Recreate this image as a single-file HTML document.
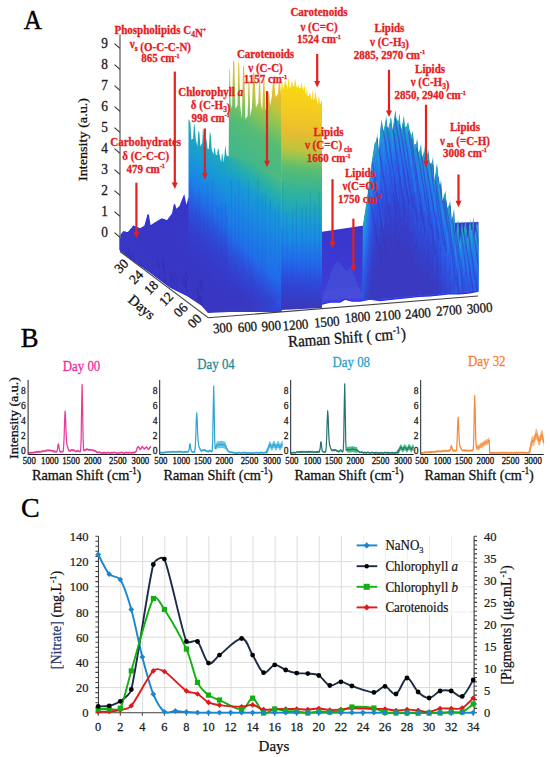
<!DOCTYPE html>
<html><head><meta charset="utf-8"><style>
html,body{margin:0;padding:0;background:#fff;}
svg{display:block;}
</style></head><body>
<svg width="550" height="757" viewBox="0 0 550 757">
<rect width="550" height="757" fill="#fff"/>
<defs><linearGradient id="gFloor" gradientUnits="userSpaceOnUse" x1="0" y1="200" x2="0" y2="315"><stop offset="0" stop-color="#3834c4"/><stop offset="0.6" stop-color="#3a3ad4"/><stop offset="1" stop-color="#3e3ee0"/></linearGradient><linearGradient id="gLeft" gradientUnits="userSpaceOnUse" x1="205.0" y1="118.0" x2="115.2" y2="237.7"><stop offset="0.0000" stop-color="#2eb2a0"/><stop offset="0.0428" stop-color="#29afa9"/><stop offset="0.0856" stop-color="#24acb2"/><stop offset="0.1283" stop-color="#1fa8bb"/><stop offset="0.1711" stop-color="#1ca4c3"/><stop offset="0.2045" stop-color="#1ba0cb"/><stop offset="0.2380" stop-color="#199bd3"/><stop offset="0.2714" stop-color="#1896d9"/><stop offset="0.3048" stop-color="#1990dd"/><stop offset="0.3382" stop-color="#1a8ae1"/><stop offset="0.3717" stop-color="#1a84e4"/><stop offset="0.4051" stop-color="#1d7ce6"/><stop offset="0.4385" stop-color="#1f73e8"/><stop offset="0.4987" stop-color="#216be9"/><stop offset="0.5588" stop-color="#2561e6"/><stop offset="0.6190" stop-color="#2a56e0"/><stop offset="0.6791" stop-color="#2e4bdb"/><stop offset="0.7393" stop-color="#3144d5"/><stop offset="0.7995" stop-color="#3341ce"/><stop offset="0.8596" stop-color="#353ec7"/><stop offset="0.9198" stop-color="#383ac0"/><stop offset="0.9398" stop-color="#3839be"/><stop offset="0.9599" stop-color="#3938bc"/><stop offset="0.9799" stop-color="#3937ba"/><stop offset="1" stop-color="#3a36b8"/></linearGradient><linearGradient id="gTallL" gradientUnits="userSpaceOnUse" x1="255.0" y1="62.0" x2="199.6" y2="141.2"><stop offset="0.0000" stop-color="#f2ca22"/><stop offset="0.0487" stop-color="#eec527"/><stop offset="0.0975" stop-color="#ebbf2d"/><stop offset="0.1462" stop-color="#e4bd31"/><stop offset="0.1949" stop-color="#d9bf34"/><stop offset="0.2373" stop-color="#ccc238"/><stop offset="0.2797" stop-color="#c0c43c"/><stop offset="0.3220" stop-color="#afc445"/><stop offset="0.3644" stop-color="#9ec44d"/><stop offset="0.4174" stop-color="#8cc456"/><stop offset="0.4703" stop-color="#7bc160"/><stop offset="0.5233" stop-color="#6abe6a"/><stop offset="0.5763" stop-color="#58bc74"/><stop offset="0.6822" stop-color="#50ba7c"/><stop offset="0.7881" stop-color="#48b984"/><stop offset="0.8941" stop-color="#41b78b"/><stop offset="1" stop-color="#39b693"/></linearGradient><linearGradient id="gShelf" gradientUnits="userSpaceOnUse" x1="255.0" y1="160.0" x2="182.0" y2="257.3"><stop offset="0.0000" stop-color="#4fba7d"/><stop offset="0.0641" stop-color="#36b596"/><stop offset="0.1283" stop-color="#26adae"/><stop offset="0.1924" stop-color="#1ca4c4"/><stop offset="0.2566" stop-color="#1898d8"/><stop offset="0.3076" stop-color="#1993db"/><stop offset="0.3586" stop-color="#198edf"/><stop offset="0.4095" stop-color="#1a89e2"/><stop offset="0.4605" stop-color="#1b82e5"/><stop offset="0.5033" stop-color="#1c7ee6"/><stop offset="0.5461" stop-color="#1d79e7"/><stop offset="0.5888" stop-color="#1f74e8"/><stop offset="0.6316" stop-color="#2070e8"/><stop offset="0.6859" stop-color="#2268ea"/><stop offset="0.7401" stop-color="#265ee5"/><stop offset="0.7944" stop-color="#2a55e0"/><stop offset="0.8487" stop-color="#2e4bdb"/><stop offset="0.8865" stop-color="#3144d5"/><stop offset="0.9243" stop-color="#3341ce"/><stop offset="0.9622" stop-color="#353ec7"/><stop offset="1" stop-color="#383ac0"/></linearGradient><linearGradient id="gTallR" gradientUnits="userSpaceOnUse" x1="305.0" y1="78.0" x2="282.2" y2="305.7"><stop offset="0.0000" stop-color="#f8dc10"/><stop offset="0.0293" stop-color="#f7d913"/><stop offset="0.0587" stop-color="#f6d616"/><stop offset="0.0880" stop-color="#f6d21a"/><stop offset="0.1174" stop-color="#f5cf1d"/><stop offset="0.1424" stop-color="#f3cb21"/><stop offset="0.1674" stop-color="#f1c725"/><stop offset="0.1924" stop-color="#eec428"/><stop offset="0.2174" stop-color="#ebc12b"/><stop offset="0.2413" stop-color="#e6bc31"/><stop offset="0.2652" stop-color="#d9bf34"/><stop offset="0.2891" stop-color="#ccc238"/><stop offset="0.3130" stop-color="#c0c43c"/><stop offset="0.3326" stop-color="#a8c448"/><stop offset="0.3522" stop-color="#90c454"/><stop offset="0.3717" stop-color="#77c062"/><stop offset="0.3913" stop-color="#5fbd70"/><stop offset="0.4261" stop-color="#4eba7e"/><stop offset="0.4609" stop-color="#40b78c"/><stop offset="0.4957" stop-color="#31b49b"/><stop offset="0.5304" stop-color="#29b0a8"/><stop offset="0.5522" stop-color="#24acb2"/><stop offset="0.5739" stop-color="#1ea8bc"/><stop offset="0.5957" stop-color="#1ca3c5"/><stop offset="0.6174" stop-color="#1a9ece"/><stop offset="0.6500" stop-color="#1897d8"/><stop offset="0.6826" stop-color="#198fde"/><stop offset="0.7152" stop-color="#1a87e4"/><stop offset="0.7478" stop-color="#1d7be6"/><stop offset="0.7913" stop-color="#206ee9"/><stop offset="0.8348" stop-color="#265ee5"/><stop offset="0.8783" stop-color="#2d4ddc"/><stop offset="0.9217" stop-color="#3242d0"/><stop offset="0.9413" stop-color="#3440cb"/><stop offset="0.9609" stop-color="#363dc6"/><stop offset="0.9804" stop-color="#373ac1"/><stop offset="1" stop-color="#3938bc"/></linearGradient><linearGradient id="gLipid" gradientUnits="userSpaceOnUse" x1="0" y1="110" x2="0" y2="300"><stop offset="0" stop-color="#2aa4c4"/><stop offset="0.1" stop-color="#2290d8"/><stop offset="0.25" stop-color="#2476ea"/><stop offset="0.47" stop-color="#2a5ee8"/><stop offset="0.7" stop-color="#3048d8"/><stop offset="1" stop-color="#3a3cc0"/></linearGradient></defs>
<clipPath id="cFloor"><polygon points="120.0,236.5 123.6,231.8 128.0,233.0 133.6,226.4 140.0,229.0 145.0,226.0 148.2,214.5 150.0,226.4 155.0,223.0 161.8,219.0 167.3,221.0 172.7,213.6 174.5,204.5 176.0,210.0 180.0,206.4 184.0,196.4 186.4,208.0 189.0,198.0 189.0,215.0 322.0,231.8 364.0,225.5 478.5,222.0 478.5,291.0 470.0,292.8 460.0,293.9 450.0,293.7 440.0,294.8 430.0,295.9 419.0,296.3 405.0,297.8 390.0,299.4 380.0,300.7 370.0,299.1 360.0,301.0 352.0,301.1 345.0,299.2 340.0,302.0 330.0,302.1 320.0,304.5 310.0,304.9 300.0,305.0 290.0,305.4 280.0,303.2 278.0,297.0 276.0,304.8 260.0,305.1 250.0,305.8 240.0,306.4 230.0,307.5 220.0,309.2 208.0,311.7 202.0,305.0 190.0,297.0 170.0,287.0 150.0,272.0 134.0,261.0 120.0,250.0"/></clipPath>
<polygon points="120.0,236.5 123.6,231.8 128.0,233.0 133.6,226.4 140.0,229.0 145.0,226.0 148.2,214.5 150.0,226.4 155.0,223.0 161.8,219.0 167.3,221.0 172.7,213.6 174.5,204.5 176.0,210.0 180.0,206.4 184.0,196.4 186.4,208.0 189.0,198.0 189.0,215.0 322.0,231.8 364.0,225.5 478.5,222.0 478.5,291.0 470.0,292.8 460.0,293.9 450.0,293.7 440.0,294.8 430.0,295.9 419.0,296.3 405.0,297.8 390.0,299.4 380.0,300.7 370.0,299.1 360.0,301.0 352.0,301.1 345.0,299.2 340.0,302.0 330.0,302.1 320.0,304.5 310.0,304.9 300.0,305.0 290.0,305.4 280.0,303.2 278.0,297.0 276.0,304.8 260.0,305.1 250.0,305.8 240.0,306.4 230.0,307.5 220.0,309.2 208.0,311.7 202.0,305.0 190.0,297.0 170.0,287.0 150.0,272.0 134.0,261.0 120.0,250.0" fill="url(#gFloor)"/>
<polyline points="478.5,291.0 470.0,292.8 460.0,293.9 450.0,293.7 440.0,294.8 430.0,295.9 419.0,296.3 405.0,297.8 390.0,299.4 380.0,300.7 370.0,299.1 360.0,301.0 352.0,301.1 345.0,299.2 340.0,302.0 330.0,302.1 320.0,304.5 310.0,304.9 300.0,305.0 290.0,305.4 280.0,303.2 278.0,297.0 276.0,304.8 260.0,305.1 250.0,305.8 240.0,306.4 230.0,307.5 220.0,309.2 208.0,311.7 202.0,305.0 190.0,297.0 170.0,287.0 150.0,272.0 134.0,261.0 120.0,250.0" fill="none" stroke="#2a2af0" stroke-width="1.3"/>
<polyline points="120.0,250.0 120.0,236.5 123.6,231.8 128.0,233.0 133.6,226.4 140.0,229.0 145.0,226.0 148.2,214.5 150.0,226.4 155.0,223.0 161.8,219.0 167.3,221.0 172.7,213.6 174.5,204.5 176.0,210.0 180.0,206.4 184.0,196.4 186.4,208.0 189.0,198.0" fill="none" stroke="#2e2ef0" stroke-width="1.4"/>
<path d="M322,300 C328,285 332,262 338,262 C343,262 345,275 348,270 C352,262 356,285 364,298 Z" fill="#4a58d4" fill-opacity="0.5"/>
<path clip-path="url(#cFloor)" d="M120,238 L208,298 L478.5,278 L478.5,295 L208,314 L120,253 Z" fill="#5a5ae0" fill-opacity="0.2"/>
<polygon points="188.5,215.0 188.5,119.0 189.5,120.6 190.4,123.1 191.4,139.7 193.1,138.5 194.0,123.1 194.9,127.1 195.7,138.5 197.3,146.6 198.4,130.6 199.4,132.5 200.4,146.6 202.3,142.5 202.9,128.1 203.5,131.4 204.2,142.5 205.3,148.5 206.1,137.9 206.8,141.8 207.5,148.5 208.8,149.0 209.8,131.2 210.8,135.0 211.7,149.0 213.4,154.6 214.3,147.6 215.0,148.8 215.7,154.6 217.1,155.0 218.0,148.2 218.8,149.4 219.6,155.0 221.2,162.4 221.9,153.1 222.6,154.5 223.3,162.4 224.5,155.2 225.2,145.0 225.8,148.4 226.5,155.2 229.5,157.0 229.5,312.0 208.0,313.0 202.0,306.0 190.0,298.0 188.5,297.0" fill="url(#gLeft)"/>
<polygon points="228.5,175.0 229.3,68.7 230.0,70.2 230.6,103.1 232.0,108.7 233.2,60.2 234.3,61.6 235.4,108.7 237.5,105.3 238.4,60.5 239.3,64.5 240.2,105.3 241.8,119.0 243.1,65.3 244.2,66.9 245.4,119.0 247.6,115.9 248.5,80.0 249.4,81.3 250.2,115.9 251.9,107.8 253.3,71.4 254.6,74.7 255.9,107.8 258.3,102.8 259.2,76.1 260.0,77.4 260.8,102.8 262.3,110.5 263.4,77.1 264.4,79.2 265.4,110.5 267.3,105.5 268.3,91.5 269.2,94.2 270.1,105.5 271.8,97.1 273.1,78.9 274.3,82.6 275.5,97.1 277.8,94.3 279.1,80.2 280.2,83.4 281.0,94.3 281.8,82.0 281.8,178.0" fill="url(#gTallL)"/>
<polygon points="228.5,156.0 240.0,160.0 255.0,165.0 268.0,169.0 281.8,174.0 281.8,312.0 228.5,312.0" fill="url(#gShelf)"/>
<polygon points="281.8,79.2 282.4,82.8 283.1,89.6 284.4,84.2 285.1,80.2 285.7,81.3 286.4,84.2 287.5,88.7 288.3,78.1 289.0,79.8 289.7,88.7 291.0,85.9 291.7,80.9 292.4,82.4 293.1,85.9 294.3,85.9 295.0,78.3 295.7,81.0 296.3,85.9 297.6,88.3 298.3,84.3 299.0,88.0 299.6,88.3 300.9,87.7 301.5,81.4 302.0,83.7 302.6,87.7 303.6,90.2 304.2,84.5 304.7,87.3 305.2,90.2 306.2,96.1 306.7,87.8 307.3,91.8 307.8,96.1 308.8,96.3 309.5,92.3 310.1,93.7 310.8,96.3 312.0,99.9 312.5,89.2 313.0,92.3 313.5,99.9 314.5,99.3 315.3,91.1 315.9,93.6 316.6,99.3 318.0,104.4 318.7,96.1 319.3,97.3 320.0,104.4 322.0,100.0 322.0,308.0 281.0,310.0" fill="url(#gTallR)"/>
<linearGradient id="gOver" gradientUnits="userSpaceOnUse" x1="202" y1="197.2" x2="164" y2="229.7"><stop offset="0" stop-color="#3836c4" stop-opacity="0"/><stop offset="0.3" stop-color="#3836c4" stop-opacity="0.35"/><stop offset="1" stop-color="#3836c4" stop-opacity="0.92"/></linearGradient>
<clipPath id="cOver"><polygon points="120.0,236.5 123.6,231.8 128.0,233.0 133.6,226.4 140.0,229.0 145.0,226.0 148.2,214.5 150.0,226.4 155.0,223.0 161.8,219.0 167.3,221.0 172.7,213.6 174.5,204.5 176.0,210.0 180.0,206.4 184.0,196.4 186.4,208.0 189.0,198.0 188.5,150.0 330.0,150.0 330.0,302.1 320.0,304.5 310.0,304.9 300.0,305.0 290.0,305.4 280.0,303.2 278.0,297.0 276.0,304.8 260.0,305.1 250.0,305.8 240.0,306.4 230.0,307.5 220.0,309.2 208.0,311.7 202.0,305.0 190.0,297.0 170.0,287.0 150.0,272.0 134.0,261.0 120.0,250.0"/></clipPath>
<polygon clip-path="url(#cOver)" points="120,150 330,150 330,320 120,320" fill="url(#gOver)"/>
<clipPath id="cLip"><polygon points="362.7,225.0 366.6,200.0 370.4,169.4 374.3,143.6 376.0,140.7 377.3,132.8 378.8,149.8 380.3,126.4 381.7,118.2 383.3,131.5 384.9,122.9 386.3,114.6 387.9,128.4 389.5,122.5 390.9,115.2 392.6,130.1 394.3,115.8 395.4,109.2 396.8,118.8 398.2,120.9 399.6,112.2 401.1,129.2 402.7,120.9 403.9,114.0 405.3,127.1 406.7,125.7 408.1,120.2 409.8,129.8 411.5,135.0 412.9,129.9 414.4,144.6 416.0,143.4 417.2,135.8 418.7,152.6 420.1,147.4 421.1,141.4 422.2,156.7 423.4,152.7 424.4,145.0 425.7,164.0 426.9,154.5 428.4,148.5 430.1,163.7 431.9,162.0 433.1,153.9 434.5,180.7 436.0,167.4 437.1,161.7 438.5,174.8 439.9,185.2 441.2,177.2 442.6,201.1 444.1,194.6 445.6,190.3 447.4,208.0 449.2,203.4 450.3,198.5 451.7,219.8 453.0,213.1 454.2,206.7 455.7,234.9 457.2,222.5 458.4,219.2 459.8,243.2 461.3,225.4 462.2,218.6 463.4,235.2 464.5,224.2 466.0,220.7 467.6,238.4 469.3,224.0 470.3,217.8 471.4,230.7 472.6,221.9 473.6,215.7 474.7,237.1 475.9,226.7 477.2,218.4 478.8,242.2 476.0,223.4 478.5,226.0 478.5,290.3 362.7,300.0"/></clipPath>
<g clip-path="url(#cLip)"><polygon points="362.7,225.0 366.6,200.0 370.4,169.4 374.3,143.6 376.0,140.7 377.3,132.8 378.8,149.8 380.3,126.4 381.7,118.2 383.3,131.5 384.9,122.9 386.3,114.6 387.9,128.4 389.5,122.5 390.9,115.2 392.6,130.1 394.3,115.8 395.4,109.2 396.8,118.8 398.2,120.9 399.6,112.2 401.1,129.2 402.7,120.9 403.9,114.0 405.3,127.1 406.7,125.7 408.1,120.2 409.8,129.8 411.5,135.0 412.9,129.9 414.4,144.6 416.0,143.4 417.2,135.8 418.7,152.6 420.1,147.4 421.1,141.4 422.2,156.7 423.4,152.7 424.4,145.0 425.7,164.0 426.9,154.5 428.4,148.5 430.1,163.7 431.9,162.0 433.1,153.9 434.5,180.7 436.0,167.4 437.1,161.7 438.5,174.8 439.9,185.2 441.2,177.2 442.6,201.1 444.1,194.6 445.6,190.3 447.4,208.0 449.2,203.4 450.3,198.5 451.7,219.8 453.0,213.1 454.2,206.7 455.7,234.9 457.2,222.5 458.4,219.2 459.8,243.2 461.3,225.4 462.2,218.6 463.4,235.2 464.5,224.2 466.0,220.7 467.6,238.4 469.3,224.0 470.3,217.8 471.4,230.7 472.6,221.9 473.6,215.7 474.7,237.1 475.9,226.7 477.2,218.4 478.8,242.2 476.0,223.4 478.5,226.0 478.5,300.0 362.7,300.0" fill="#2aaab8"/><polygon points="362.7,230.0 366.6,205.0 370.4,174.4 374.3,148.6 376.0,145.7 377.3,137.8 378.8,154.8 380.3,131.4 381.7,123.2 383.3,136.5 384.9,127.9 386.3,119.6 387.9,133.4 389.5,127.5 390.9,120.2 392.6,135.1 394.3,120.8 395.4,114.2 396.8,123.8 398.2,125.9 399.6,117.2 401.1,134.2 402.7,125.9 403.9,119.0 405.3,132.1 406.7,130.7 408.1,125.2 409.8,134.8 411.5,140.0 412.9,134.9 414.4,149.6 416.0,148.4 417.2,140.8 418.7,157.6 420.1,152.4 421.1,146.4 422.2,161.7 423.4,157.7 424.4,150.0 425.7,169.0 426.9,159.5 428.4,153.5 430.1,168.7 431.9,167.0 433.1,158.9 434.5,185.7 436.0,172.4 437.1,166.7 438.5,179.8 439.9,190.2 441.2,182.2 442.6,206.1 444.1,199.6 445.6,195.3 447.4,213.0 449.2,208.4 450.3,203.5 451.7,224.8 453.0,218.1 454.2,211.7 455.7,239.9 457.2,227.5 458.4,224.2 459.8,248.2 461.3,230.4 462.2,223.6 463.4,240.2 464.5,229.2 466.0,225.7 467.6,243.4 469.3,229.0 470.3,222.8 471.4,235.7 472.6,226.9 473.6,220.7 474.7,242.1 475.9,231.7 477.2,223.4 478.8,247.2 476.0,228.4 478.5,231.0 478.5,300.0 362.7,300.0" fill="#24a0cc"/><polygon points="362.7,237.0 366.6,212.0 370.4,181.4 374.3,155.6 376.0,152.7 377.3,144.8 378.8,161.8 380.3,138.4 381.7,130.2 383.3,143.5 384.9,134.9 386.3,126.6 387.9,140.4 389.5,134.5 390.9,127.2 392.6,142.1 394.3,127.8 395.4,121.2 396.8,130.8 398.2,132.9 399.6,124.2 401.1,141.2 402.7,132.9 403.9,126.0 405.3,139.1 406.7,137.7 408.1,132.2 409.8,141.8 411.5,147.0 412.9,141.9 414.4,156.6 416.0,155.4 417.2,147.8 418.7,164.6 420.1,159.4 421.1,153.4 422.2,168.7 423.4,164.7 424.4,157.0 425.7,176.0 426.9,166.5 428.4,160.5 430.1,175.7 431.9,174.0 433.1,165.9 434.5,192.7 436.0,179.4 437.1,173.7 438.5,186.8 439.9,197.2 441.2,189.2 442.6,213.1 444.1,206.6 445.6,202.3 447.4,220.0 449.2,215.4 450.3,210.5 451.7,231.8 453.0,225.1 454.2,218.7 455.7,246.9 457.2,234.5 458.4,231.2 459.8,255.2 461.3,237.4 462.2,230.6 463.4,247.2 464.5,236.2 466.0,232.7 467.6,250.4 469.3,236.0 470.3,229.8 471.4,242.7 472.6,233.9 473.6,227.7 474.7,249.1 475.9,238.7 477.2,230.4 478.8,254.2 476.0,235.4 478.5,238.0 478.5,300.0 362.7,300.0" fill="#2290dc"/><polygon points="362.7,247.0 366.6,222.0 370.4,191.4 374.3,165.6 376.0,162.7 377.3,154.8 378.8,171.8 380.3,148.4 381.7,140.2 383.3,153.5 384.9,144.9 386.3,136.6 387.9,150.4 389.5,144.5 390.9,137.2 392.6,152.1 394.3,137.8 395.4,131.2 396.8,140.8 398.2,142.9 399.6,134.2 401.1,151.2 402.7,142.9 403.9,136.0 405.3,149.1 406.7,147.7 408.1,142.2 409.8,151.8 411.5,157.0 412.9,151.9 414.4,166.6 416.0,165.4 417.2,157.8 418.7,174.6 420.1,169.4 421.1,163.4 422.2,178.7 423.4,174.7 424.4,167.0 425.7,186.0 426.9,176.5 428.4,170.5 430.1,185.7 431.9,184.0 433.1,175.9 434.5,202.7 436.0,189.4 437.1,183.7 438.5,196.8 439.9,207.2 441.2,199.2 442.6,223.1 444.1,216.6 445.6,212.3 447.4,230.0 449.2,225.4 450.3,220.5 451.7,241.8 453.0,235.1 454.2,228.7 455.7,256.9 457.2,244.5 458.4,241.2 459.8,265.2 461.3,247.4 462.2,240.6 463.4,257.2 464.5,246.2 466.0,242.7 467.6,260.4 469.3,246.0 470.3,239.8 471.4,252.7 472.6,243.9 473.6,237.7 474.7,259.1 475.9,248.7 477.2,240.4 478.8,264.2 476.0,245.4 478.5,248.0 478.5,300.0 362.7,300.0" fill="#2280e8"/><polygon points="362.7,259.0 366.6,234.0 370.4,203.4 374.3,177.6 376.0,174.7 377.3,166.8 378.8,183.8 380.3,160.4 381.7,152.2 383.3,165.5 384.9,156.9 386.3,148.6 387.9,162.4 389.5,156.5 390.9,149.2 392.6,164.1 394.3,149.8 395.4,143.2 396.8,152.8 398.2,154.9 399.6,146.2 401.1,163.2 402.7,154.9 403.9,148.0 405.3,161.1 406.7,159.7 408.1,154.2 409.8,163.8 411.5,169.0 412.9,163.9 414.4,178.6 416.0,177.4 417.2,169.8 418.7,186.6 420.1,181.4 421.1,175.4 422.2,190.7 423.4,186.7 424.4,179.0 425.7,198.0 426.9,188.5 428.4,182.5 430.1,197.7 431.9,196.0 433.1,187.9 434.5,214.7 436.0,201.4 437.1,195.7 438.5,208.8 439.9,219.2 441.2,211.2 442.6,235.1 444.1,228.6 445.6,224.3 447.4,242.0 449.2,237.4 450.3,232.5 451.7,253.8 453.0,247.1 454.2,240.7 455.7,268.9 457.2,256.5 458.4,253.2 459.8,277.2 461.3,259.4 462.2,252.6 463.4,269.2 464.5,258.2 466.0,254.7 467.6,272.4 469.3,258.0 470.3,251.8 471.4,264.7 472.6,255.9 473.6,249.7 474.7,271.1 475.9,260.7 477.2,252.4 478.8,276.2 476.0,257.4 478.5,260.0 478.5,300.0 362.7,300.0" fill="#2670ec"/><polygon points="362.7,273.0 366.6,248.0 370.4,217.4 374.3,191.6 376.0,188.7 377.3,180.8 378.8,197.8 380.3,174.4 381.7,166.2 383.3,179.5 384.9,170.9 386.3,162.6 387.9,176.4 389.5,170.5 390.9,163.2 392.6,178.1 394.3,163.8 395.4,157.2 396.8,166.8 398.2,168.9 399.6,160.2 401.1,177.2 402.7,168.9 403.9,162.0 405.3,175.1 406.7,173.7 408.1,168.2 409.8,177.8 411.5,183.0 412.9,177.9 414.4,192.6 416.0,191.4 417.2,183.8 418.7,200.6 420.1,195.4 421.1,189.4 422.2,204.7 423.4,200.7 424.4,193.0 425.7,212.0 426.9,202.5 428.4,196.5 430.1,211.7 431.9,210.0 433.1,201.9 434.5,228.7 436.0,215.4 437.1,209.7 438.5,222.8 439.9,233.2 441.2,225.2 442.6,249.1 444.1,242.6 445.6,238.3 447.4,256.0 449.2,251.4 450.3,246.5 451.7,267.8 453.0,261.1 454.2,254.7 455.7,282.9 457.2,270.5 458.4,267.2 459.8,291.2 461.3,273.4 462.2,266.6 463.4,283.2 464.5,272.2 466.0,268.7 467.6,286.4 469.3,272.0 470.3,265.8 471.4,278.7 472.6,269.9 473.6,263.7 474.7,285.1 475.9,274.7 477.2,266.4 478.8,290.2 476.0,271.4 478.5,274.0 478.5,300.0 362.7,300.0" fill="#2a5ee8"/><polygon points="362.7,289.0 366.6,264.0 370.4,233.4 374.3,207.6 376.0,204.7 377.3,196.8 378.8,213.8 380.3,190.4 381.7,182.2 383.3,195.5 384.9,186.9 386.3,178.6 387.9,192.4 389.5,186.5 390.9,179.2 392.6,194.1 394.3,179.8 395.4,173.2 396.8,182.8 398.2,184.9 399.6,176.2 401.1,193.2 402.7,184.9 403.9,178.0 405.3,191.1 406.7,189.7 408.1,184.2 409.8,193.8 411.5,199.0 412.9,193.9 414.4,208.6 416.0,207.4 417.2,199.8 418.7,216.6 420.1,211.4 421.1,205.4 422.2,220.7 423.4,216.7 424.4,209.0 425.7,228.0 426.9,218.5 428.4,212.5 430.1,227.7 431.9,226.0 433.1,217.9 434.5,244.7 436.0,231.4 437.1,225.7 438.5,238.8 439.9,249.2 441.2,241.2 442.6,265.1 444.1,258.6 445.6,254.3 447.4,272.0 449.2,267.4 450.3,262.5 451.7,283.8 453.0,277.1 454.2,270.7 455.7,298.9 457.2,286.5 458.4,283.2 459.8,307.2 461.3,289.4 462.2,282.6 463.4,299.2 464.5,288.2 466.0,284.7 467.6,302.4 469.3,288.0 470.3,281.8 471.4,294.7 472.6,285.9 473.6,279.7 474.7,301.1 475.9,290.7 477.2,282.4 478.8,306.2 476.0,287.4 478.5,290.0 478.5,300.0 362.7,300.0" fill="#2e50dc"/><polygon points="362.7,307.0 366.6,282.0 370.4,251.4 374.3,225.6 376.0,222.7 377.3,214.8 378.8,231.8 380.3,208.4 381.7,200.2 383.3,213.5 384.9,204.9 386.3,196.6 387.9,210.4 389.5,204.5 390.9,197.2 392.6,212.1 394.3,197.8 395.4,191.2 396.8,200.8 398.2,202.9 399.6,194.2 401.1,211.2 402.7,202.9 403.9,196.0 405.3,209.1 406.7,207.7 408.1,202.2 409.8,211.8 411.5,217.0 412.9,211.9 414.4,226.6 416.0,225.4 417.2,217.8 418.7,234.6 420.1,229.4 421.1,223.4 422.2,238.7 423.4,234.7 424.4,227.0 425.7,246.0 426.9,236.5 428.4,230.5 430.1,245.7 431.9,244.0 433.1,235.9 434.5,262.7 436.0,249.4 437.1,243.7 438.5,256.8 439.9,267.2 441.2,259.2 442.6,283.1 444.1,276.6 445.6,272.3 447.4,290.0 449.2,285.4 450.3,280.5 451.7,301.8 453.0,295.1 454.2,288.7 455.7,316.9 457.2,304.5 458.4,301.2 459.8,325.2 461.3,307.4 462.2,300.6 463.4,317.2 464.5,306.2 466.0,302.7 467.6,320.4 469.3,306.0 470.3,299.8 471.4,312.7 472.6,303.9 473.6,297.7 474.7,319.1 475.9,308.7 477.2,300.4 478.8,324.2 476.0,305.4 478.5,308.0 478.5,300.0 362.7,300.0" fill="#3246d2"/><polygon points="362.7,325.0 366.6,300.0 370.4,269.4 374.3,243.6 376.0,240.7 377.3,232.8 378.8,249.8 380.3,226.4 381.7,218.2 383.3,231.5 384.9,222.9 386.3,214.6 387.9,228.4 389.5,222.5 390.9,215.2 392.6,230.1 394.3,215.8 395.4,209.2 396.8,218.8 398.2,220.9 399.6,212.2 401.1,229.2 402.7,220.9 403.9,214.0 405.3,227.1 406.7,225.7 408.1,220.2 409.8,229.8 411.5,235.0 412.9,229.9 414.4,244.6 416.0,243.4 417.2,235.8 418.7,252.6 420.1,247.4 421.1,241.4 422.2,256.7 423.4,252.7 424.4,245.0 425.7,264.0 426.9,254.5 428.4,248.5 430.1,263.7 431.9,262.0 433.1,253.9 434.5,280.7 436.0,267.4 437.1,261.7 438.5,274.8 439.9,285.2 441.2,277.2 442.6,301.1 444.1,294.6 445.6,290.3 447.4,308.0 449.2,303.4 450.3,298.5 451.7,319.8 453.0,313.1 454.2,306.7 455.7,334.9 457.2,322.5 458.4,319.2 459.8,343.2 461.3,325.4 462.2,318.6 463.4,335.2 464.5,324.2 466.0,320.7 467.6,338.4 469.3,324.0 470.3,317.8 471.4,330.7 472.6,321.9 473.6,315.7 474.7,337.1 475.9,326.7 477.2,318.4 478.8,342.2 476.0,323.4 478.5,326.0 478.5,300.0 362.7,300.0" fill="#363ec8"/><polygon points="362.7,345.0 366.6,320.0 370.4,289.4 374.3,263.6 376.0,260.7 377.3,252.8 378.8,269.8 380.3,246.4 381.7,238.2 383.3,251.5 384.9,242.9 386.3,234.6 387.9,248.4 389.5,242.5 390.9,235.2 392.6,250.1 394.3,235.8 395.4,229.2 396.8,238.8 398.2,240.9 399.6,232.2 401.1,249.2 402.7,240.9 403.9,234.0 405.3,247.1 406.7,245.7 408.1,240.2 409.8,249.8 411.5,255.0 412.9,249.9 414.4,264.6 416.0,263.4 417.2,255.8 418.7,272.6 420.1,267.4 421.1,261.4 422.2,276.7 423.4,272.7 424.4,265.0 425.7,284.0 426.9,274.5 428.4,268.5 430.1,283.7 431.9,282.0 433.1,273.9 434.5,300.7 436.0,287.4 437.1,281.7 438.5,294.8 439.9,305.2 441.2,297.2 442.6,321.1 444.1,314.6 445.6,310.3 447.4,328.0 449.2,323.4 450.3,318.5 451.7,339.8 453.0,333.1 454.2,326.7 455.7,354.9 457.2,342.5 458.4,339.2 459.8,363.2 461.3,345.4 462.2,338.6 463.4,355.2 464.5,344.2 466.0,340.7 467.6,358.4 469.3,344.0 470.3,337.8 471.4,350.7 472.6,341.9 473.6,335.7 474.7,357.1 475.9,346.7 477.2,338.4 478.8,362.2 476.0,343.4 478.5,346.0 478.5,300.0 362.7,300.0" fill="#3a3ac0"/></g>
<path clip-path="url(#cLip)" d="M368.4,190.4L382.4,269.8 M372.3,161.5L386.3,254.4 M377.0,137.6L391.0,221.3 M382.3,123.7L396.3,214.1 M386.7,126.6L400.7,221.4 M391.3,118.1L405.3,216.4 M395.2,118.3L409.2,204.6 M399.4,123.8L413.4,208.2 M403.5,126.4L417.5,221.4 M408.6,131.3L422.6,222.5 M411.4,138.6L425.4,234.1 M416.6,147.6L430.6,227.9 M421.4,154.8L435.4,254.2 M425.0,157.3L439.0,240.3 M430.0,163.0L444.0,246.7 M432.7,164.4L446.7,253.2 M438.3,177.3L452.3,253.0 M442.7,191.6L456.7,286.6 M445.7,200.3L459.7,295.0 M450.0,205.9L464.0,293.8 M455.4,227.9L469.4,320.1 M460.2,227.0L474.2,325.7 M462.8,226.0L476.8,314.2 M467.5,228.3L481.5,319.3 M472.2,225.7L486.2,314.7 M476.1,227.8L490.1,323.9" stroke="#3434c0" stroke-width="1.4" stroke-opacity="0.55" fill="none"/>
<path clip-path="url(#cLip)" d="M373.8,156.2L383.8,228.2 M379.1,137.7L389.1,204.2 M382.8,128.8L392.8,193.9 M388.8,128.2L398.8,202.6 M393.8,122.4L403.8,193.4 M399.1,127.4L409.1,196.2 M403.3,130.0L413.3,193.3 M410.3,143.4L420.3,203.8 M414.5,147.7L424.5,211.3 M420.4,159.2L430.4,223.7 M424.6,159.4L434.6,226.7 M431.1,166.1L441.1,236.7 M434.4,171.6L444.4,231.1 M441.0,194.6L451.0,256.8 M446.0,205.4L456.0,275.0 M450.2,214.5L460.2,274.5 M455.6,232.0L465.6,295.8 M461.2,232.7L471.2,298.3 M465.9,232.4L475.9,300.1 M472.1,229.6L482.1,301.6" stroke="#2c6cf4" stroke-width="1.1" stroke-opacity="0.5" fill="none"/>
<path d="M191.2,209.3V264.3 M195.9,207.4V291.1 M199.4,187.6V291.9 M203.6,214.9V290.5 M207.9,184.6V284.1 M212.5,178.9V288.3 M217.2,206.6V260.0 M221.6,202.4V255.7 M225.6,202.3V291.5 M231.5,179.6V275.2 M235.5,195.1V282.4 M238.8,177.8V259.2 M242.9,197.1V275.6 M248.3,180.9V262.4 M252.0,208.6V294.6 M257.9,178.8V257.5 M262.3,193.5V285.6 M265.5,193.7V275.6 M270.1,199.0V255.5 M275.0,208.8V262.3 M278.9,204.6V271.2 M282.8,181.6V275.5 M286.8,210.7V287.1 M292.6,209.4V280.2 M296.4,199.0V275.2 M302.0,207.2V265.3 M306.2,204.8V286.1 M310.4,191.2V290.9 M315.0,202.8V285.7 M319.1,191.2V283.9" stroke="#2040d0" stroke-width="0.8" stroke-opacity="0.22" fill="none"/>
<path clip-path="url(#cFloor)" d="M130.6,255.0l2,10 M162.5,259.4l2,10 M153.5,274.2l2,10 M174.9,271.7l2,10 M200.6,296.2l2,10 M152.0,274.2l2,10 M170.6,278.7l2,10 M156.2,286.3l2,10 M176.4,286.4l2,10 M185.9,299.1l2,10 M126.8,261.5l2,10 M184.1,276.5l2,10 M157.1,258.2l2,10 M140.6,260.6l2,10 M132.9,253.3l2,10 M197.5,291.4l2,10 M165.6,289.5l2,10 M170.4,292.6l2,10 M176.0,289.5l2,10 M131.1,262.9l2,10 M185.7,270.9l2,10 M199.4,280.5l2,10 M162.7,264.3l2,10 M164.6,278.4l2,10 M129.7,272.7l2,10 M158.7,273.2l2,10 M172.8,274.7l2,10 M147.9,272.2l2,10 M169.9,270.9l2,10 M182.3,276.9l2,10 M126.1,250.1l2,10 M128.4,248.5l2,10 M185.4,281.1l2,10 M196.8,297.0l2,10 M129.0,273.7l2,10 M200.6,278.5l2,10 M197.4,287.7l2,10 M163.2,288.6l2,10 M144.5,266.7l2,10 M200.0,297.7l2,10" stroke="#2a2898" stroke-width="1" stroke-opacity="0.4" fill="none"/>
<path d="M120,34.5V238" stroke="#7a7a7a" stroke-width="1.5" fill="none"/>
<path d="M120,251.5 L208.2,317.8 L478,296" stroke="#444" stroke-width="1.1" fill="none"/>
<path d="M120,237.3l-5.5,-4.6 M120,216.3l-5.5,-4.6 M120,195.3l-5.5,-4.6 M120,174.3l-5.5,-4.6 M120,153.3l-5.5,-4.6 M120,132.3l-5.5,-4.6 M120,111.3l-5.5,-4.6 M120,90.3l-5.5,-4.6 M120,69.3l-5.5,-4.6 M120,48.3l-5.5,-4.6" stroke="#333" stroke-width="1.1" fill="none"/>
<g font-family="Liberation Serif" font-size="14.5" fill="#1a1a1a" stroke="#1a1a1a" stroke-width="0.3"><text transform="translate(104.5,236.5) scale(0.920,1)" text-anchor="middle">0</text><text transform="translate(104.5,215.5) scale(0.920,1)" text-anchor="middle">1</text><text transform="translate(104.5,194.5) scale(0.920,1)" text-anchor="middle">2</text><text transform="translate(104.5,173.5) scale(0.920,1)" text-anchor="middle">3</text><text transform="translate(104.5,152.5) scale(0.920,1)" text-anchor="middle">4</text><text transform="translate(104.5,131.5) scale(0.920,1)" text-anchor="middle">5</text><text transform="translate(104.5,110.5) scale(0.920,1)" text-anchor="middle">6</text><text transform="translate(104.5,89.5) scale(0.920,1)" text-anchor="middle">7</text><text transform="translate(104.5,68.5) scale(0.920,1)" text-anchor="middle">8</text><text transform="translate(104.5,47.5) scale(0.920,1)" text-anchor="middle">9</text></g>
<text transform="translate(87,139.5) rotate(-90) scale(1,0.9)" text-anchor="middle" font-family="Liberation Serif" font-size="14.2" fill="#111" stroke="#111" stroke-width="0.3">Intensity (a.u.)</text>
<g font-family="Liberation Serif" font-size="13.5" fill="#111" stroke="#111" stroke-width="0.3"><text transform="translate(121.4,266.0) rotate(-45)" text-anchor="middle" y="4.5">30</text><text transform="translate(136.0,277.0) rotate(-45)" text-anchor="middle" y="4.5">24</text><text transform="translate(151.0,287.5) rotate(-45)" text-anchor="middle" y="4.5">18</text><text transform="translate(166.0,299.0) rotate(-45)" text-anchor="middle" y="4.5">12</text><text transform="translate(180.5,310.0) rotate(-45)" text-anchor="middle" y="4.5">06</text><text transform="translate(194.5,321.0) rotate(-45)" text-anchor="middle" y="4.5">00</text><text transform="translate(142,307) rotate(40)" text-anchor="middle" y="5" font-size="14.5">Days</text></g>
<g font-family="Liberation Serif" font-size="14" fill="#111" stroke="#111" stroke-width="0.3"><text transform="translate(222.6,328.0) rotate(-5) scale(0.92,1)" text-anchor="middle" y="4.5">300</text><text transform="translate(247.5,327.0) rotate(-5) scale(0.92,1)" text-anchor="middle" y="4.5">600</text><text transform="translate(271.3,326.0) rotate(-5) scale(0.92,1)" text-anchor="middle" y="4.5">900</text><text transform="translate(295.5,325.0) rotate(-5) scale(0.92,1)" text-anchor="middle" y="4.5">1200</text><text transform="translate(326.8,322.0) rotate(-5) scale(0.92,1)" text-anchor="middle" y="4.5">1500</text><text transform="translate(357.5,317.2) rotate(-5) scale(0.92,1)" text-anchor="middle" y="4.5">1800</text><text transform="translate(388.0,315.5) rotate(-5) scale(0.92,1)" text-anchor="middle" y="4.5">2100</text><text transform="translate(418.0,313.5) rotate(-5) scale(0.92,1)" text-anchor="middle" y="4.5">2400</text><text transform="translate(449.0,310.5) rotate(-5) scale(0.92,1)" text-anchor="middle" y="4.5">2700</text><text transform="translate(479.6,308.2) rotate(-5) scale(0.92,1)" text-anchor="middle" y="4.5">3000</text></g>
<text transform="translate(347,338) rotate(-4) scale(0.9,1)" text-anchor="middle" y="5" font-family="Liberation Serif" font-size="16.5" fill="#111" stroke="#111" stroke-width="0.3">Raman Shift ( cm<tspan font-size="10.5" dy="-6">-1</tspan><tspan dy="6">)</tspan></text>
<g font-family="Liberation Serif" font-weight="bold" font-size="12.5" fill="#e3201e" stroke="#e3201e" stroke-width="0.3"><text transform="translate(160.4,34.2) scale(0.880,1)" text-anchor="middle">Phospholipids C<tspan font-size="8.5" dy="2.5">4</tspan><tspan dy="-2.5"></tspan>N<tspan font-size="7" dy="-4.5">+</tspan><tspan dy="4.5"></tspan></text><text transform="translate(160.4,48.2) scale(0.880,1)" text-anchor="middle">ν<tspan font-size="8.5" dy="2.5">s</tspan><tspan dy="-2.5"></tspan> (O-C-C-N)</text><text transform="translate(160.4,62.2) scale(0.880,1)" text-anchor="middle">865 cm<tspan font-size="7" dy="-4.5">-1</tspan><tspan dy="4.5"></tspan></text><text transform="translate(145.7,146.0) scale(0.880,1)" text-anchor="middle">Carbohydrates</text><text transform="translate(145.7,160.0) scale(0.880,1)" text-anchor="middle">δ (C-C-C)</text><text transform="translate(145.7,172.7) scale(0.880,1)" text-anchor="middle">479 cm<tspan font-size="7" dy="-4.5">-1</tspan><tspan dy="4.5"></tspan></text><text transform="translate(210.7,95.6) scale(0.880,1)" text-anchor="middle">Chlorophyll <tspan font-style="italic">a</tspan></text><text transform="translate(210.7,109.4) scale(0.880,1)" text-anchor="middle">δ (C-H<tspan font-size="8.5" dy="2.5">3</tspan><tspan dy="-2.5"></tspan>)</text><text transform="translate(210.7,121.8) scale(0.880,1)" text-anchor="middle">998 cm<tspan font-size="7" dy="-4.5">-1</tspan><tspan dy="4.5"></tspan></text><text transform="translate(265.5,57.5) scale(0.880,1)" text-anchor="middle">Carotenoids</text><text transform="translate(265.5,71.6) scale(0.880,1)" text-anchor="middle">ν (C-C)</text><text transform="translate(265.5,83.2) scale(0.880,1)" text-anchor="middle">1157 cm<tspan font-size="7" dy="-4.5">-1</tspan><tspan dy="4.5"></tspan></text><text transform="translate(319.0,16.1) scale(0.880,1)" text-anchor="middle">Carotenoids</text><text transform="translate(319.0,31.4) scale(0.880,1)" text-anchor="middle">ν (C=C)</text><text transform="translate(319.0,43.0) scale(0.880,1)" text-anchor="middle">1524 cm<tspan font-size="7" dy="-4.5">-1</tspan><tspan dy="4.5"></tspan></text><text transform="translate(389.4,32.4) scale(0.880,1)" text-anchor="middle">Lipids</text><text transform="translate(389.4,45.6) scale(0.880,1)" text-anchor="middle">ν (C-H<tspan font-size="8.5" dy="2.5">3</tspan><tspan dy="-2.5"></tspan>)</text><text transform="translate(389.4,58.9) scale(0.880,1)" text-anchor="middle">2885, 2970 cm<tspan font-size="7" dy="-4.5">-1</tspan><tspan dy="4.5"></tspan></text><text transform="translate(430.1,73.1) scale(0.880,1)" text-anchor="middle">Lipids</text><text transform="translate(430.1,86.3) scale(0.880,1)" text-anchor="middle">ν (C-H<tspan font-size="8.5" dy="2.5">3</tspan><tspan dy="-2.5"></tspan>)</text><text transform="translate(430.1,99.0) scale(0.880,1)" text-anchor="middle">2850, 2940 cm<tspan font-size="7" dy="-4.5">-1</tspan><tspan dy="4.5"></tspan></text><text transform="translate(465.0,130.5) scale(0.880,1)" text-anchor="middle">Lipids</text><text transform="translate(465.0,144.5) scale(0.880,1)" text-anchor="middle">ν<tspan font-size="8.5" dy="2.5"> as</tspan><tspan dy="-2.5"> (=C-H)</tspan></text><text transform="translate(465.0,156.7) scale(0.880,1)" text-anchor="middle">3008 cm<tspan font-size="7" dy="-4.5">-1</tspan><tspan dy="4.5"></tspan></text><text transform="translate(328.6,136.4) scale(0.880,1)" text-anchor="middle">Lipids</text><text transform="translate(328.6,149.0) scale(0.880,1)" text-anchor="middle">ν (C=C)<tspan font-size="8.5" dy="2.5"> cis</tspan><tspan dy="-2.5"></tspan></text><text transform="translate(328.6,162.2) scale(0.880,1)" text-anchor="middle">1660 cm<tspan font-size="7" dy="-4.5">-1</tspan><tspan dy="4.5"></tspan></text><text transform="translate(360.0,177.3) scale(0.880,1)" text-anchor="middle">Lipids</text><text transform="translate(360.0,190.0) scale(0.880,1)" text-anchor="middle">ν(C=O)</text><text transform="translate(360.0,202.7) scale(0.880,1)" text-anchor="middle">1750 cm<tspan font-size="7" dy="-4.5">-1</tspan><tspan dy="4.5"></tspan></text></g>
<path d="M136.4,182.7V233.2" stroke="#e3201e" stroke-width="2.2"/><path d="M136.4,238.2l-3,-6.5h6z" fill="#e3201e"/><path d="M174.8,71.6V184.0" stroke="#e3201e" stroke-width="2.2"/><path d="M174.8,189.0l-3,-6.5h6z" fill="#e3201e"/><path d="M204.8,128.5V174.5" stroke="#e3201e" stroke-width="2.2"/><path d="M204.8,179.5l-3,-6.5h6z" fill="#e3201e"/><path d="M267.0,91.0V162.3" stroke="#e3201e" stroke-width="2.2"/><path d="M267.0,167.3l-3,-6.5h6z" fill="#e3201e"/><path d="M317.2,54.0V82.5" stroke="#e3201e" stroke-width="2.2"/><path d="M317.2,87.5l-3,-6.5h6z" fill="#e3201e"/><path d="M389.0,69.8V111.9" stroke="#e3201e" stroke-width="2.2"/><path d="M389.0,116.9l-3,-6.5h6z" fill="#e3201e"/><path d="M426.0,104.7V162.3" stroke="#e3201e" stroke-width="2.2"/><path d="M426.0,167.3l-3,-6.5h6z" fill="#e3201e"/><path d="M458.5,174.5V202.3" stroke="#e3201e" stroke-width="2.2"/><path d="M458.5,207.3l-3,-6.5h6z" fill="#e3201e"/><path d="M332.5,179.2V243.0" stroke="#e3201e" stroke-width="2.2"/><path d="M332.5,248.0l-3,-6.5h6z" fill="#e3201e"/><path d="M353.4,218.7V267.0" stroke="#e3201e" stroke-width="2.2"/><path d="M353.4,272.0l-3,-6.5h6z" fill="#e3201e"/>
<text transform="translate(23.8,28.6) scale(0.92,1)" font-family="Liberation Serif" font-size="27.5" fill="#000" stroke="#000" stroke-width="0.4">A</text>
<path d="M28.1,452.0 L28.6,452.1 L29.1,451.6 L29.6,452.2 L30.1,451.7 L30.6,451.8 L31.1,452.1 L31.6,451.6 L32.1,452.0 L32.6,451.5 L33.1,451.8 L33.6,451.8 L34.1,451.4 L34.6,450.9 L35.1,451.6 L35.6,451.4 L36.1,451.0 L36.6,450.6 L37.1,450.9 L37.6,451.1 L38.1,450.5 L38.6,451.3 L39.1,450.5 L39.6,451.0 L40.1,451.1 L40.6,451.0 L41.1,450.7 L41.6,450.2 L42.1,450.7 L42.6,450.2 L43.1,450.0 L43.6,450.2 L44.1,449.9 L44.6,450.3 L45.1,450.1 L45.6,449.9 L46.1,449.4 L46.6,449.5 L47.1,449.6 L47.6,449.3 L48.1,449.4 L48.6,449.6 L49.1,449.1 L49.6,449.3 L50.1,449.8 L50.6,449.6 L51.1,449.7 L51.6,449.5 L52.1,449.7 L52.6,450.3 L53.1,449.7 L53.6,450.6 L54.1,450.5 L54.6,450.2 L55.1,450.9 L55.6,450.6 L56.1,451.1 L56.6,450.5 L57.1,449.9 L57.6,447.6 L58.1,443.0 L58.6,442.9 L59.1,446.7 L59.6,449.9 L60.1,450.8 L60.6,451.0 L61.1,450.6 L61.6,450.5 L62.1,451.0 L62.6,450.7 L63.1,450.6 L63.6,446.4 L64.1,435.6 L64.6,418.0 L65.1,408.2 L65.6,416.3 L66.1,431.2 L66.6,440.4 L67.1,444.3 L67.6,445.6 L68.1,447.6 L68.6,449.1 L69.1,449.9 L69.6,449.5 L70.1,450.0 L70.6,449.6 L71.1,449.3 L71.6,448.7 L72.1,449.4 L72.6,449.1 L73.1,449.1 L73.6,449.1 L74.1,449.4 L74.6,449.6 L75.1,450.4 L75.6,450.5 L76.1,450.7 L76.6,450.1 L77.1,449.6 L77.6,449.9 L78.1,449.6 L78.6,449.9 L79.1,450.4 L79.6,450.6 L80.1,450.7 L80.6,449.9 L81.1,439.4 L81.6,405.6 L82.1,380.2 L82.6,405.3 L83.1,438.3 L83.6,448.8 L84.1,449.7 L84.6,449.1 L85.1,448.7 L85.6,449.1 L86.1,448.3 L86.6,448.3 L87.1,448.2 L87.6,448.3 L88.1,448.7 L88.6,448.7 L89.1,449.0 L89.6,448.5 L90.1,449.0 L90.6,449.0 L91.1,448.9 L91.6,449.0 L92.1,448.9 L92.6,449.2 L93.1,449.3 L93.6,449.3 L94.1,449.6 L94.6,449.7 L95.1,450.4 L95.6,450.0 L96.1,450.6 L96.6,451.3 L97.1,451.3 L97.6,451.4 L98.1,451.5 L98.6,451.8 L99.1,451.2 L99.6,451.1 L100.1,451.7 L100.6,451.7 L101.1,452.1 L101.6,452.1 L102.1,451.9 L102.6,452.0 L103.1,451.5 L103.6,452.2 L104.1,452.3 L104.6,451.4 L105.1,451.8 L105.6,452.2 L106.1,451.8 L106.6,452.3 L107.1,451.9 L107.6,451.4 L108.1,451.6 L108.6,451.7 L109.1,452.1 L109.6,452.0 L110.1,452.2 L110.6,451.6 L111.1,451.9 L111.6,451.6 L112.1,452.1 L112.6,452.2 L113.1,451.6 L113.6,451.4 L114.1,451.6 L114.6,451.6 L115.1,451.6 L115.6,451.7 L116.1,452.2 L116.6,451.9 L117.1,452.0 L117.6,452.3 L118.1,452.3 L118.6,452.1 L119.1,452.1 L119.6,451.7 L120.1,451.5 L120.6,451.9 L121.1,451.5 L121.6,451.4 L122.1,451.5 L122.6,452.0 L123.1,452.2 L123.6,452.2 L124.1,452.2 L124.6,452.2 L125.1,451.8 L125.6,451.5 L126.1,451.6 L126.6,451.9 L127.1,451.8 L127.6,451.6 L128.1,452.3 L128.6,451.7 L129.1,451.5 L129.6,451.6 L130.1,451.7 L130.6,451.9 L131.1,452.2 L131.6,451.6 L132.1,452.1 L132.6,451.6 L133.1,451.4 L133.6,452.0 L134.1,451.9 L134.6,451.2 L135.1,451.1 L135.6,451.1 L136.1,450.3 L136.6,449.1 L137.1,447.0 L137.6,446.0 L138.1,446.1 L138.6,445.8 L139.1,446.4 L139.6,447.5 L140.1,448.2 L140.6,447.8 L141.1,447.4 L141.6,446.7 L142.1,445.3 L142.6,445.7 L143.1,446.5 L143.6,447.0 L144.1,448.0 L144.6,447.6 L145.1,447.1 L145.6,446.8 L146.1,446.1 L146.6,445.9 L147.1,446.5 L147.6,447.0 L148.1,448.1 L148.6,448.1 L149.1,448.0 L149.6,446.4 L150.1,446.2 L150.6,445.7 L151.1,445.9 L151.1,448.3 L150.6,448.1 L150.1,448.5 L149.6,448.8 L149.1,450.2 L148.6,450.3 L148.1,450.2 L147.6,449.3 L147.1,448.8 L146.6,448.3 L146.1,448.4 L145.6,449.1 L145.1,449.3 L144.6,449.8 L144.1,450.2 L143.6,449.3 L143.1,448.8 L142.6,448.1 L142.1,447.7 L141.6,449.0 L141.1,449.6 L140.6,450.0 L140.1,450.4 L139.6,449.8 L139.1,448.8 L138.6,448.2 L138.1,448.5 L137.6,448.3 L137.1,449.2 L136.6,451.1 L136.1,452.3 L135.6,453.0 L135.1,453.0 L134.6,453.1 L134.1,453.7 L133.6,453.8 L133.1,453.3 L132.6,453.4 L132.1,453.8 L131.6,453.5 L131.1,454.0 L130.6,453.7 L130.1,453.5 L129.6,453.5 L129.1,453.3 L128.6,453.6 L128.1,454.0 L127.6,453.4 L127.1,453.6 L126.6,453.7 L126.1,453.4 L125.6,453.4 L125.1,453.6 L124.6,454.0 L124.1,454.0 L123.6,453.9 L123.1,453.9 L122.6,453.8 L122.1,453.3 L121.6,453.3 L121.1,453.3 L120.6,453.7 L120.1,453.3 L119.6,453.5 L119.1,453.9 L118.6,453.9 L118.1,454.0 L117.6,454.0 L117.1,453.8 L116.6,453.7 L116.1,453.9 L115.6,453.5 L115.1,453.4 L114.6,453.4 L114.1,453.4 L113.6,453.3 L113.1,453.4 L112.6,453.9 L112.1,453.8 L111.6,453.5 L111.1,453.7 L110.6,453.5 L110.1,454.0 L109.6,453.8 L109.1,453.9 L108.6,453.5 L108.1,453.4 L107.6,453.3 L107.1,453.7 L106.6,454.0 L106.1,453.6 L105.6,454.0 L105.1,453.7 L104.6,453.3 L104.1,454.0 L103.6,453.9 L103.1,453.4 L102.6,453.8 L102.1,453.7 L101.6,453.9 L101.1,453.9 L100.6,453.5 L100.1,453.5 L99.6,453.0 L99.1,453.1 L98.6,453.6 L98.1,453.3 L97.6,453.2 L97.1,453.2 L96.6,453.1 L96.1,452.5 L95.6,452.0 L95.1,452.3 L94.6,451.7 L94.1,451.6 L93.6,451.4 L93.1,451.4 L92.6,451.2 L92.1,450.9 L91.6,451.1 L91.1,451.0 L90.6,451.1 L90.1,451.1 L89.6,450.6 L89.1,451.1 L88.6,450.8 L88.1,450.8 L87.6,450.5 L87.1,450.4 L86.6,450.5 L86.1,450.4 L85.6,451.2 L85.1,450.8 L84.6,451.2 L84.1,451.7 L83.6,450.9 L83.1,441.4 L82.6,411.6 L82.1,388.8 L81.6,411.8 L81.1,442.4 L80.6,451.9 L80.1,452.6 L79.6,452.6 L79.1,452.4 L78.6,451.9 L78.1,451.7 L77.6,451.9 L77.1,451.6 L76.6,452.0 L76.1,452.6 L75.6,452.4 L75.1,452.4 L74.6,451.6 L74.1,451.4 L73.6,451.1 L73.1,451.2 L72.6,451.2 L72.1,451.4 L71.6,450.8 L71.1,451.3 L70.6,451.7 L70.1,452.0 L69.6,451.5 L69.1,451.9 L68.6,451.1 L68.1,449.8 L67.6,448.0 L67.1,446.9 L66.6,443.3 L66.1,435.0 L65.6,421.5 L65.1,414.2 L64.6,423.0 L64.1,438.9 L63.6,448.7 L63.1,452.5 L62.6,452.6 L62.1,452.9 L61.6,452.5 L61.1,452.5 L60.6,452.9 L60.1,452.7 L59.6,451.9 L59.1,449.0 L58.6,445.6 L58.1,445.6 L57.6,449.8 L57.1,451.9 L56.6,452.5 L56.1,453.0 L55.6,452.6 L55.1,452.8 L54.6,452.2 L54.1,452.4 L53.6,452.6 L53.1,451.7 L52.6,452.2 L52.1,451.7 L51.6,451.5 L51.1,451.7 L50.6,451.6 L50.1,451.8 L49.6,451.3 L49.1,451.2 L48.6,451.6 L48.1,451.5 L47.6,451.4 L47.1,451.6 L46.6,451.6 L46.1,451.4 L45.6,451.9 L45.1,452.1 L44.6,452.2 L44.1,451.9 L43.6,452.1 L43.1,452.0 L42.6,452.2 L42.1,452.6 L41.6,452.1 L41.1,452.7 L40.6,452.9 L40.1,452.9 L39.6,452.9 L39.1,452.4 L38.6,453.2 L38.1,452.4 L37.6,452.9 L37.1,452.8 L36.6,452.6 L36.1,452.9 L35.6,453.3 L35.1,453.4 L34.6,452.8 L34.1,453.2 L33.6,453.6 L33.1,453.6 L32.6,453.4 L32.1,453.8 L31.6,453.4 L31.1,453.8 L30.6,453.6 L30.1,453.5 L29.6,453.9 L29.1,453.5 L28.6,453.9 L28.1,453.8Z" fill="#f066b4" fill-opacity="0.8"/>
<path d="M28.1,452.9 L28.6,453.0 L29.1,452.6 L29.6,453.1 L30.1,452.6 L30.6,452.7 L31.1,453.0 L31.6,452.5 L32.1,452.9 L32.6,452.5 L33.1,452.7 L33.6,452.7 L34.1,452.3 L34.6,451.9 L35.1,452.5 L35.6,452.3 L36.1,451.9 L36.6,451.6 L37.1,451.9 L37.6,452.0 L38.1,451.4 L38.6,452.2 L39.1,451.5 L39.6,451.9 L40.1,452.0 L40.6,452.0 L41.1,451.7 L41.6,451.2 L42.1,451.6 L42.6,451.2 L43.1,451.0 L43.6,451.2 L44.1,450.9 L44.6,451.2 L45.1,451.1 L45.6,450.9 L46.1,450.4 L46.6,450.6 L47.1,450.6 L47.6,450.3 L48.1,450.4 L48.6,450.6 L49.1,450.2 L49.6,450.3 L50.1,450.8 L50.6,450.6 L51.1,450.7 L51.6,450.5 L52.1,450.7 L52.6,451.2 L53.1,450.7 L53.6,451.6 L54.1,451.4 L54.6,451.2 L55.1,451.8 L55.6,451.6 L56.1,452.1 L56.6,451.5 L57.1,450.9 L57.6,448.7 L58.1,444.3 L58.6,444.2 L59.1,447.8 L59.6,450.9 L60.1,451.7 L60.6,451.9 L61.1,451.6 L61.6,451.5 L62.1,451.9 L62.6,451.7 L63.1,451.6 L63.6,447.6 L64.1,437.2 L64.6,420.5 L65.1,411.2 L65.6,418.9 L66.1,433.1 L66.6,441.8 L67.1,445.6 L67.6,446.8 L68.1,448.7 L68.6,450.1 L69.1,450.9 L69.6,450.5 L70.1,451.0 L70.6,450.7 L71.1,450.3 L71.6,449.7 L72.1,450.4 L72.6,450.1 L73.1,450.2 L73.6,450.1 L74.1,450.4 L74.6,450.6 L75.1,451.4 L75.6,451.5 L76.1,451.6 L76.6,451.0 L77.1,450.6 L77.6,450.9 L78.1,450.7 L78.6,450.9 L79.1,451.4 L79.6,451.6 L80.1,451.7 L80.6,450.9 L81.1,440.9 L81.6,408.7 L82.1,384.5 L82.6,408.5 L83.1,439.8 L83.6,449.9 L84.1,450.7 L84.6,450.1 L85.1,449.8 L85.6,450.2 L86.1,449.3 L86.6,449.4 L87.1,449.3 L87.6,449.4 L88.1,449.8 L88.6,449.7 L89.1,450.0 L89.6,449.5 L90.1,450.1 L90.6,450.1 L91.1,450.0 L91.6,450.0 L92.1,449.9 L92.6,450.2 L93.1,450.4 L93.6,450.4 L94.1,450.6 L94.6,450.7 L95.1,451.4 L95.6,451.0 L96.1,451.5 L96.6,452.2 L97.1,452.3 L97.6,452.3 L98.1,452.4 L98.6,452.7 L99.1,452.1 L99.6,452.1 L100.1,452.6 L100.6,452.6 L101.1,453.0 L101.6,453.0 L102.1,452.8 L102.6,452.9 L103.1,452.4 L103.6,453.1 L104.1,453.2 L104.6,452.4 L105.1,452.7 L105.6,453.1 L106.1,452.7 L106.6,453.2 L107.1,452.8 L107.6,452.4 L108.1,452.5 L108.6,452.6 L109.1,453.0 L109.6,452.9 L110.1,453.1 L110.6,452.6 L111.1,452.8 L111.6,452.5 L112.1,453.0 L112.6,453.0 L113.1,452.5 L113.6,452.4 L114.1,452.5 L114.6,452.5 L115.1,452.5 L115.6,452.6 L116.1,453.0 L116.6,452.8 L117.1,452.9 L117.6,453.2 L118.1,453.2 L118.6,453.0 L119.1,453.0 L119.6,452.6 L120.1,452.4 L120.6,452.8 L121.1,452.4 L121.6,452.4 L122.1,452.4 L122.6,452.9 L123.1,453.1 L123.6,453.0 L124.1,453.1 L124.6,453.1 L125.1,452.7 L125.6,452.4 L126.1,452.5 L126.6,452.8 L127.1,452.7 L127.6,452.5 L128.1,453.2 L128.6,452.7 L129.1,452.4 L129.6,452.5 L130.1,452.6 L130.6,452.8 L131.1,453.1 L131.6,452.5 L132.1,452.9 L132.6,452.5 L133.1,452.4 L133.6,452.9 L134.1,452.8 L134.6,452.1 L135.1,452.1 L135.6,452.1 L136.1,451.3 L136.6,450.1 L137.1,448.1 L137.6,447.1 L138.1,447.3 L138.6,447.0 L139.1,447.6 L139.6,448.6 L140.1,449.3 L140.6,448.9 L141.1,448.5 L141.6,447.8 L142.1,446.5 L142.6,446.9 L143.1,447.7 L143.6,448.1 L144.1,449.1 L144.6,448.7 L145.1,448.2 L145.6,447.9 L146.1,447.3 L146.6,447.1 L147.1,447.6 L147.6,448.1 L148.1,449.1 L148.6,449.2 L149.1,449.1 L149.6,447.6 L150.1,447.4 L150.6,446.9 L151.1,447.1" stroke="#e8389a" stroke-width="1.2" fill="none" stroke-linejoin="round"/>
<path d="M28.1,379.9V454.5H151.1" stroke="#222" stroke-width="1" fill="none"/>
<g font-family="Liberation Serif" font-size="10" fill="#111" stroke="#111" stroke-width="0.25"><text transform="translate(25.8,454.2) scale(0.95,1)" text-anchor="end">0</text><text transform="translate(25.8,439.1) scale(0.95,1)" text-anchor="end">2</text><text transform="translate(25.8,424.1) scale(0.95,1)" text-anchor="end">4</text><text transform="translate(25.8,409.0) scale(0.95,1)" text-anchor="end">6</text><text transform="translate(25.8,394.0) scale(0.95,1)" text-anchor="end">8</text></g>
<g font-family="Liberation Serif" font-size="9.8" fill="#111" stroke="#111" stroke-width="0.3"><text transform="translate(29.3,464) scale(0.9,1)" text-anchor="middle">500</text><text transform="translate(49.8,464) scale(0.9,1)" text-anchor="middle">1000</text><text transform="translate(71.0,464) scale(0.9,1)" text-anchor="middle">1500</text><text transform="translate(92.7,464) scale(0.9,1)" text-anchor="middle">2000</text><text transform="translate(117.9,464) scale(0.9,1)" text-anchor="middle">2500</text><text transform="translate(140.4,464) scale(0.9,1)" text-anchor="middle">3000</text></g>
<text transform="translate(86.6,480) scale(0.92,1)" text-anchor="middle" font-family="Liberation Serif" font-size="15.5" fill="#111" stroke="#111" stroke-width="0.3">Raman Shift (cm<tspan font-size="9.5" dy="-6">-1</tspan><tspan dy="6">)</tspan></text>
<text transform="translate(81.5,371.0) scale(0.92,1)" text-anchor="middle" font-family="Liberation Serif" font-size="14" fill="#ee2aa0" stroke="#ee2aa0" stroke-width="0.25">Day 00</text>
<path d="M159.7,451.4 L160.2,451.9 L160.7,451.4 L161.2,451.8 L161.7,451.7 L162.2,451.7 L162.7,452.1 L163.2,451.7 L163.7,451.8 L164.2,452.0 L164.7,451.1 L165.2,451.7 L165.7,451.3 L166.2,451.0 L166.7,451.2 L167.2,451.3 L167.7,451.1 L168.2,451.0 L168.7,450.8 L169.2,451.4 L169.7,451.0 L170.2,451.2 L170.7,451.2 L171.2,450.7 L171.7,451.0 L172.2,450.9 L172.7,450.7 L173.2,450.6 L173.7,451.0 L174.2,450.9 L174.7,451.0 L175.2,450.9 L175.7,450.8 L176.2,451.0 L176.7,450.9 L177.2,451.0 L177.7,450.5 L178.2,450.8 L178.7,450.6 L179.2,450.5 L179.7,451.2 L180.2,450.9 L180.7,450.5 L181.2,450.6 L181.7,451.3 L182.2,451.3 L182.7,451.0 L183.2,451.4 L183.7,451.2 L184.2,451.4 L184.7,450.8 L185.2,450.7 L185.7,450.6 L186.2,451.3 L186.7,450.8 L187.2,450.8 L187.7,451.3 L188.2,450.5 L188.7,449.9 L189.2,448.0 L189.7,443.0 L190.2,442.9 L190.7,446.9 L191.2,449.6 L191.7,450.5 L192.2,451.3 L192.7,451.0 L193.2,450.9 L193.7,451.1 L194.2,451.2 L194.7,450.4 L195.2,446.5 L195.7,436.7 L196.2,419.6 L196.7,410.1 L197.2,417.8 L197.7,431.9 L198.2,440.6 L198.7,443.9 L199.2,446.0 L199.7,446.8 L200.2,448.4 L200.7,449.1 L201.2,450.1 L201.7,449.8 L202.2,449.8 L202.7,448.9 L203.2,449.3 L203.7,449.3 L204.2,449.1 L204.7,448.8 L205.2,449.1 L205.7,449.9 L206.2,450.3 L206.7,449.8 L207.2,450.4 L207.7,450.3 L208.2,450.8 L208.7,450.5 L209.2,449.4 L209.7,449.4 L210.2,450.0 L210.7,449.7 L211.2,450.5 L211.7,450.5 L212.2,450.1 L212.7,439.0 L213.2,407.4 L213.7,382.0 L214.2,406.7 L214.7,438.6 L215.2,447.5 L215.7,446.6 L216.2,443.2 L216.7,442.1 L217.2,441.2 L217.7,441.2 L218.2,441.3 L218.7,441.2 L219.2,441.3 L219.7,441.1 L220.2,441.0 L220.7,441.0 L221.2,440.6 L221.7,441.1 L222.2,440.9 L222.7,441.2 L223.2,441.1 L223.7,441.5 L224.2,441.5 L224.7,442.0 L225.2,441.8 L225.7,442.7 L226.2,444.1 L226.7,447.2 L227.2,448.0 L227.7,449.8 L228.2,449.8 L228.7,450.7 L229.2,451.0 L229.7,450.9 L230.2,451.5 L230.7,451.5 L231.2,451.4 L231.7,451.2 L232.2,451.8 L232.7,451.4 L233.2,451.6 L233.7,451.7 L234.2,451.9 L234.7,452.0 L235.2,452.3 L235.7,452.2 L236.2,452.3 L236.7,451.6 L237.2,452.1 L237.7,452.2 L238.2,452.3 L238.7,451.6 L239.2,451.5 L239.7,451.7 L240.2,452.1 L240.7,452.1 L241.2,452.1 L241.7,451.9 L242.2,452.2 L242.7,451.9 L243.2,452.1 L243.7,451.5 L244.2,451.5 L244.7,451.9 L245.2,452.1 L245.7,451.5 L246.2,452.1 L246.7,452.0 L247.2,452.4 L247.7,452.0 L248.2,451.9 L248.7,451.9 L249.2,452.2 L249.7,451.9 L250.2,452.4 L250.7,452.1 L251.2,452.3 L251.7,452.0 L252.2,452.3 L252.7,452.4 L253.2,452.1 L253.7,452.2 L254.2,451.8 L254.7,451.9 L255.2,451.7 L255.7,451.8 L256.2,451.7 L256.7,451.5 L257.2,452.0 L257.7,452.1 L258.2,451.4 L258.7,452.2 L259.2,451.7 L259.7,451.8 L260.2,452.3 L260.7,451.6 L261.2,451.5 L261.7,451.8 L262.2,451.7 L262.7,451.6 L263.2,452.2 L263.7,451.9 L264.2,451.9 L264.7,451.6 L265.2,451.6 L265.7,451.4 L266.2,449.2 L266.7,448.5 L267.2,447.9 L267.7,446.6 L268.2,445.3 L268.7,443.4 L269.2,441.7 L269.7,440.9 L270.2,441.5 L270.7,442.0 L271.2,443.4 L271.7,443.9 L272.2,443.5 L272.7,442.4 L273.2,441.3 L273.7,441.1 L274.2,440.5 L274.7,441.6 L275.2,443.1 L275.7,443.9 L276.2,443.7 L276.7,443.4 L277.2,441.5 L277.7,441.0 L278.2,441.0 L278.7,441.6 L279.2,442.4 L279.7,444.0 L280.2,443.8 L280.7,443.0 L281.2,442.2 L281.7,441.2 L282.2,440.6 L282.7,440.8 L282.7,447.9 L282.2,447.7 L281.7,448.3 L281.2,449.2 L280.7,449.9 L280.2,450.6 L279.7,450.8 L279.2,449.4 L278.7,448.6 L278.2,448.1 L277.7,448.1 L277.2,448.6 L276.7,450.3 L276.2,450.6 L275.7,450.7 L275.2,450.0 L274.7,448.6 L274.2,447.7 L273.7,448.2 L273.2,448.4 L272.7,449.4 L272.2,450.4 L271.7,450.7 L271.2,450.3 L270.7,449.0 L270.2,448.6 L269.7,448.0 L269.2,448.8 L268.7,450.3 L268.2,452.0 L267.7,453.2 L267.2,454.0 L266.7,454.0 L266.2,454.0 L265.7,453.3 L265.2,453.4 L264.7,453.4 L264.2,453.7 L263.7,453.7 L263.2,454.0 L262.7,453.4 L262.2,453.5 L261.7,453.6 L261.2,453.4 L260.7,453.4 L260.2,454.0 L259.7,453.6 L259.2,453.5 L258.7,454.0 L258.2,453.3 L257.7,453.8 L257.2,453.8 L256.7,453.4 L256.2,453.5 L255.7,453.6 L255.2,453.5 L254.7,453.7 L254.2,453.6 L253.7,453.9 L253.2,453.9 L252.7,454.0 L252.2,454.0 L251.7,453.8 L251.2,454.0 L250.7,453.9 L250.2,454.0 L249.7,453.7 L249.2,454.0 L248.7,453.7 L248.2,453.7 L247.7,453.8 L247.2,454.0 L246.7,453.8 L246.2,453.9 L245.7,453.3 L245.2,453.9 L244.7,453.7 L244.2,453.3 L243.7,453.3 L243.2,453.9 L242.7,453.7 L242.2,454.0 L241.7,453.7 L241.2,453.9 L240.7,453.9 L240.2,453.9 L239.7,453.5 L239.2,453.4 L238.7,453.4 L238.2,454.0 L237.7,454.0 L237.2,453.9 L236.7,453.5 L236.2,454.0 L235.7,454.0 L235.2,454.0 L234.7,453.8 L234.2,453.7 L233.7,453.5 L233.2,453.4 L232.7,453.3 L232.2,453.6 L231.7,453.0 L231.2,453.2 L230.7,453.3 L230.2,453.3 L229.7,452.8 L229.2,452.9 L228.7,452.6 L228.2,451.8 L227.7,451.8 L227.2,450.1 L226.7,449.5 L226.2,450.9 L225.7,449.7 L225.2,448.9 L224.7,449.0 L224.2,448.6 L223.7,448.6 L223.2,448.2 L222.7,448.3 L222.2,448.0 L221.7,448.2 L221.2,447.8 L220.7,448.2 L220.2,448.1 L219.7,448.2 L219.2,448.4 L218.7,448.3 L218.2,448.4 L217.7,448.3 L217.2,448.3 L216.7,449.1 L216.2,450.1 L215.7,448.9 L215.2,449.7 L214.7,441.7 L214.2,412.8 L213.7,390.4 L213.2,413.4 L212.7,442.0 L212.2,452.0 L211.7,452.4 L211.2,452.4 L210.7,451.8 L210.2,452.0 L209.7,451.5 L209.2,451.4 L208.7,452.4 L208.2,452.7 L207.7,452.3 L207.2,452.3 L206.7,451.8 L206.2,452.3 L205.7,451.9 L205.2,451.2 L204.7,450.9 L204.2,451.2 L203.7,451.4 L203.2,451.3 L202.7,451.0 L202.2,451.8 L201.7,451.8 L201.2,452.1 L200.7,451.1 L200.2,450.6 L199.7,449.1 L199.2,448.4 L198.7,446.5 L198.2,443.4 L197.7,435.6 L197.2,422.8 L196.7,415.9 L196.2,424.5 L195.7,440.0 L195.2,448.9 L194.7,452.3 L194.2,453.0 L193.7,453.0 L193.2,452.8 L192.7,452.9 L192.2,453.1 L191.7,452.5 L191.2,451.6 L190.7,449.2 L190.2,445.6 L189.7,445.6 L189.2,450.2 L188.7,451.9 L188.2,452.5 L187.7,453.1 L187.2,452.7 L186.7,452.7 L186.2,453.1 L185.7,452.5 L185.2,452.6 L184.7,452.7 L184.2,453.2 L183.7,453.1 L183.2,453.2 L182.7,452.9 L182.2,453.2 L181.7,453.2 L181.2,452.6 L180.7,452.5 L180.2,452.8 L179.7,453.1 L179.2,452.5 L178.7,452.5 L178.2,452.7 L177.7,452.5 L177.2,452.9 L176.7,452.8 L176.2,452.9 L175.7,452.7 L175.2,452.8 L174.7,452.8 L174.2,452.8 L173.7,452.9 L173.2,452.5 L172.7,452.6 L172.2,452.8 L171.7,452.9 L171.2,452.6 L170.7,453.1 L170.2,453.1 L169.7,452.9 L169.2,453.3 L168.7,452.7 L168.2,452.9 L167.7,453.0 L167.2,453.2 L166.7,453.0 L166.2,452.9 L165.7,453.2 L165.2,453.5 L164.7,453.0 L164.2,453.7 L163.7,453.6 L163.2,453.5 L162.7,453.9 L162.2,453.5 L161.7,453.5 L161.2,453.6 L160.7,453.2 L160.2,453.7 L159.7,453.3Z" fill="#44b6e0" fill-opacity="0.8"/>
<path d="M159.7,452.4 L160.2,452.8 L160.7,452.3 L161.2,452.7 L161.7,452.6 L162.2,452.6 L162.7,453.0 L163.2,452.6 L163.7,452.7 L164.2,452.9 L164.7,452.1 L165.2,452.6 L165.7,452.3 L166.2,452.0 L166.7,452.1 L167.2,452.3 L167.7,452.0 L168.2,452.0 L168.7,451.8 L169.2,452.3 L169.7,451.9 L170.2,452.2 L170.7,452.1 L171.2,451.7 L171.7,451.9 L172.2,451.9 L172.7,451.7 L173.2,451.5 L173.7,452.0 L174.2,451.8 L174.7,451.9 L175.2,451.9 L175.7,451.7 L176.2,451.9 L176.7,451.9 L177.2,451.9 L177.7,451.5 L178.2,451.7 L178.7,451.6 L179.2,451.5 L179.7,452.1 L180.2,451.8 L180.7,451.5 L181.2,451.6 L181.7,452.2 L182.2,452.2 L182.7,452.0 L183.2,452.3 L183.7,452.1 L184.2,452.3 L184.7,451.7 L185.2,451.6 L185.7,451.5 L186.2,452.2 L186.7,451.7 L187.2,451.8 L187.7,452.2 L188.2,451.5 L188.7,450.9 L189.2,449.1 L189.7,444.3 L190.2,444.2 L190.7,448.1 L191.2,450.6 L191.7,451.5 L192.2,452.2 L192.7,452.0 L193.2,451.9 L193.7,452.0 L194.2,452.1 L194.7,451.4 L195.2,447.7 L195.7,438.4 L196.2,422.1 L196.7,413.0 L197.2,420.3 L197.7,433.7 L198.2,442.0 L198.7,445.2 L199.2,447.2 L199.7,448.0 L200.2,449.5 L200.7,450.1 L201.2,451.1 L201.7,450.8 L202.2,450.8 L202.7,450.0 L203.2,450.3 L203.7,450.4 L204.2,450.1 L204.7,449.9 L205.2,450.2 L205.7,450.9 L206.2,451.3 L206.7,450.8 L207.2,451.3 L207.7,451.3 L208.2,451.8 L208.7,451.4 L209.2,450.4 L209.7,450.4 L210.2,451.0 L210.7,450.7 L211.2,451.5 L211.7,451.5 L212.2,451.1 L212.7,440.5 L213.2,410.4 L213.7,386.2 L214.2,409.7 L214.7,440.1 L215.2,448.6 L215.7,447.7 L216.2,446.6 L216.7,445.6 L217.2,444.7 L217.7,444.8 L218.2,444.8 L218.7,444.7 L219.2,444.8 L219.7,444.7 L220.2,444.6 L220.7,444.6 L221.2,444.2 L221.7,444.6 L222.2,444.5 L222.7,444.8 L223.2,444.7 L223.7,445.1 L224.2,445.0 L224.7,445.5 L225.2,445.3 L225.7,446.2 L226.2,447.5 L226.7,448.3 L227.2,449.1 L227.7,450.8 L228.2,450.8 L228.7,451.7 L229.2,451.9 L229.7,451.8 L230.2,452.4 L230.7,452.4 L231.2,452.3 L231.7,452.1 L232.2,452.7 L232.7,452.3 L233.2,452.5 L233.7,452.6 L234.2,452.8 L234.7,452.9 L235.2,453.1 L235.7,453.1 L236.2,453.2 L236.7,452.6 L237.2,453.0 L237.7,453.1 L238.2,453.2 L238.7,452.5 L239.2,452.5 L239.7,452.6 L240.2,453.0 L240.7,453.0 L241.2,453.0 L241.7,452.8 L242.2,453.1 L242.7,452.8 L243.2,453.0 L243.7,452.4 L244.2,452.4 L244.7,452.8 L245.2,453.0 L245.7,452.4 L246.2,453.0 L246.7,452.9 L247.2,453.2 L247.7,452.9 L248.2,452.8 L248.7,452.8 L249.2,453.1 L249.7,452.8 L250.2,453.2 L250.7,453.0 L251.2,453.2 L251.7,452.9 L252.2,453.2 L252.7,453.2 L253.2,453.0 L253.7,453.0 L254.2,452.7 L254.7,452.8 L255.2,452.6 L255.7,452.7 L256.2,452.6 L256.7,452.5 L257.2,452.9 L257.7,453.0 L258.2,452.4 L258.7,453.1 L259.2,452.6 L259.7,452.7 L260.2,453.2 L260.7,452.5 L261.2,452.4 L261.7,452.7 L262.2,452.6 L262.7,452.5 L263.2,453.1 L263.7,452.8 L264.2,452.8 L264.7,452.5 L265.2,452.5 L265.7,452.4 L266.2,452.4 L266.7,451.7 L267.2,451.1 L267.7,449.9 L268.2,448.6 L268.7,446.8 L269.2,445.2 L269.7,444.4 L270.2,445.1 L270.7,445.5 L271.2,446.9 L271.7,447.3 L272.2,447.0 L272.7,445.9 L273.2,444.9 L273.7,444.6 L274.2,444.1 L274.7,445.1 L275.2,446.5 L275.7,447.3 L276.2,447.2 L276.7,446.9 L277.2,445.1 L277.7,444.6 L278.2,444.6 L278.7,445.1 L279.2,445.9 L279.7,447.4 L280.2,447.2 L280.7,446.4 L281.2,445.7 L281.7,444.7 L282.2,444.2 L282.7,444.4" stroke="#30a4d0" stroke-width="1.2" fill="none" stroke-linejoin="round"/>
<path d="M159.7,379.9V454.5H282.7" stroke="#222" stroke-width="1" fill="none"/>
<g font-family="Liberation Serif" font-size="10" fill="#111" stroke="#111" stroke-width="0.25"><text transform="translate(157.4,454.2) scale(0.95,1)" text-anchor="end">0</text><text transform="translate(157.4,439.1) scale(0.95,1)" text-anchor="end">2</text><text transform="translate(157.4,424.1) scale(0.95,1)" text-anchor="end">4</text><text transform="translate(157.4,409.0) scale(0.95,1)" text-anchor="end">6</text><text transform="translate(157.4,394.0) scale(0.95,1)" text-anchor="end">8</text></g>
<g font-family="Liberation Serif" font-size="9.8" fill="#111" stroke="#111" stroke-width="0.3"><text transform="translate(160.9,464) scale(0.9,1)" text-anchor="middle">500</text><text transform="translate(181.4,464) scale(0.9,1)" text-anchor="middle">1000</text><text transform="translate(202.6,464) scale(0.9,1)" text-anchor="middle">1500</text><text transform="translate(224.3,464) scale(0.9,1)" text-anchor="middle">2000</text><text transform="translate(249.5,464) scale(0.9,1)" text-anchor="middle">2500</text><text transform="translate(272.0,464) scale(0.9,1)" text-anchor="middle">3000</text></g>
<text transform="translate(218.2,480) scale(0.92,1)" text-anchor="middle" font-family="Liberation Serif" font-size="15.5" fill="#111" stroke="#111" stroke-width="0.3">Raman Shift (cm<tspan font-size="9.5" dy="-6">-1</tspan><tspan dy="6">)</tspan></text>
<text transform="translate(216.0,369.0) scale(0.92,1)" text-anchor="middle" font-family="Liberation Serif" font-size="14" fill="#1e8a8e" stroke="#1e8a8e" stroke-width="0.25">Day 04</text>
<path d="M290.7,451.6 L291.2,451.7 L291.7,451.7 L292.2,452.2 L292.7,452.1 L293.2,451.9 L293.7,451.4 L294.2,451.8 L294.7,451.5 L295.2,451.9 L295.7,451.8 L296.2,451.6 L296.7,451.1 L297.2,451.1 L297.7,451.0 L298.2,451.4 L298.7,451.1 L299.2,451.1 L299.7,451.1 L300.2,451.4 L300.7,450.7 L301.2,451.3 L301.7,450.5 L302.2,450.6 L302.7,451.4 L303.2,451.0 L303.7,450.7 L304.2,450.5 L304.7,451.0 L305.2,451.2 L305.7,451.2 L306.2,450.5 L306.7,451.2 L307.2,450.9 L307.7,451.3 L308.2,450.9 L308.7,450.5 L309.2,451.3 L309.7,450.7 L310.2,450.9 L310.7,450.6 L311.2,450.8 L311.7,451.2 L312.2,450.6 L312.7,451.0 L313.2,451.4 L313.7,451.4 L314.2,451.0 L314.7,451.0 L315.2,451.1 L315.7,451.3 L316.2,451.1 L316.7,451.1 L317.2,450.6 L317.7,451.4 L318.2,450.7 L318.7,450.6 L319.2,451.2 L319.7,449.8 L320.2,446.7 L320.7,441.0 L321.2,440.8 L321.7,445.9 L322.2,449.9 L322.7,450.4 L323.2,450.9 L323.7,451.1 L324.2,451.0 L324.7,451.2 L325.2,451.3 L325.7,450.6 L326.2,446.2 L326.7,435.6 L327.2,417.4 L327.7,408.0 L328.2,415.7 L328.7,430.8 L329.2,440.7 L329.7,444.0 L330.2,445.2 L330.7,446.9 L331.2,448.4 L331.7,449.4 L332.2,449.3 L332.7,449.2 L333.2,449.4 L333.7,449.0 L334.2,449.5 L334.7,448.8 L335.2,449.1 L335.7,449.0 L336.2,449.3 L336.7,449.9 L337.2,450.4 L337.7,449.8 L338.2,450.8 L338.7,450.6 L339.2,450.6 L339.7,450.2 L340.2,449.3 L340.7,448.9 L341.2,449.8 L341.7,450.0 L342.2,450.8 L342.7,450.7 L343.2,449.7 L343.7,439.1 L344.2,405.3 L344.7,379.5 L345.2,404.5 L345.7,438.5 L346.2,449.2 L346.7,449.1 L347.2,446.6 L347.7,446.7 L348.2,446.8 L348.7,446.7 L349.2,446.7 L349.7,446.5 L350.2,446.7 L350.7,446.6 L351.2,446.6 L351.7,446.3 L352.2,446.0 L352.7,446.1 L353.2,446.4 L353.7,446.5 L354.2,446.4 L354.7,446.6 L355.2,446.7 L355.7,447.0 L356.2,447.0 L356.7,446.6 L357.2,447.8 L357.7,449.7 L358.2,450.1 L358.7,450.2 L359.2,451.1 L359.7,451.3 L360.2,451.5 L360.7,451.4 L361.2,451.5 L361.7,451.1 L362.2,451.3 L362.7,451.3 L363.2,452.1 L363.7,452.2 L364.2,451.6 L364.7,451.4 L365.2,451.8 L365.7,451.7 L366.2,452.3 L366.7,452.0 L367.2,451.5 L367.7,451.6 L368.2,451.5 L368.7,451.4 L369.2,452.1 L369.7,452.3 L370.2,452.2 L370.7,451.9 L371.2,451.7 L371.7,451.5 L372.2,451.7 L372.7,451.8 L373.2,451.6 L373.7,451.9 L374.2,451.9 L374.7,452.3 L375.2,451.6 L375.7,452.2 L376.2,451.5 L376.7,451.8 L377.2,452.1 L377.7,452.3 L378.2,452.1 L378.7,451.8 L379.2,451.7 L379.7,452.3 L380.2,452.3 L380.7,451.9 L381.2,451.8 L381.7,452.0 L382.2,452.2 L382.7,451.8 L383.2,452.4 L383.7,452.1 L384.2,451.9 L384.7,451.5 L385.2,451.8 L385.7,451.5 L386.2,451.9 L386.7,452.2 L387.2,452.1 L387.7,451.5 L388.2,451.7 L388.7,452.1 L389.2,452.4 L389.7,451.9 L390.2,451.7 L390.7,452.0 L391.2,452.1 L391.7,451.7 L392.2,451.5 L392.7,452.2 L393.2,452.3 L393.7,452.1 L394.2,452.0 L394.7,451.7 L395.2,452.2 L395.7,451.6 L396.2,451.6 L396.7,451.8 L397.2,450.1 L397.7,449.1 L398.2,449.2 L398.7,447.9 L399.2,447.3 L399.7,446.0 L400.2,444.5 L400.7,444.5 L401.2,444.2 L401.7,445.4 L402.2,446.4 L402.7,446.7 L403.2,446.3 L403.7,445.3 L404.2,444.3 L404.7,444.6 L405.2,444.5 L405.7,445.3 L406.2,445.4 L406.7,446.7 L407.2,446.8 L407.7,446.2 L408.2,445.1 L408.7,444.0 L409.2,443.9 L409.7,444.5 L410.2,445.1 L410.7,445.8 L411.2,446.6 L411.7,446.4 L412.2,444.9 L412.7,444.3 L413.2,444.7 L413.7,444.4 L413.7,450.4 L413.2,450.7 L412.7,450.4 L412.2,450.9 L411.7,452.3 L411.2,452.5 L410.7,451.8 L410.2,451.1 L409.7,450.6 L409.2,450.0 L408.7,450.1 L408.2,451.1 L407.7,452.1 L407.2,452.6 L406.7,452.6 L406.2,451.4 L405.7,451.3 L405.2,450.6 L404.7,450.7 L404.2,450.4 L403.7,451.3 L403.2,452.2 L402.7,452.6 L402.2,452.3 L401.7,451.3 L401.2,450.3 L400.7,450.6 L400.2,450.6 L399.7,452.0 L399.2,453.1 L398.7,453.7 L398.2,454.0 L397.7,454.0 L397.2,454.0 L396.7,453.6 L396.2,453.5 L395.7,453.4 L395.2,454.0 L394.7,453.5 L394.2,453.8 L393.7,453.8 L393.2,454.0 L392.7,453.9 L392.2,453.3 L391.7,453.6 L391.2,453.9 L390.7,453.8 L390.2,453.6 L389.7,453.7 L389.2,454.0 L388.7,453.9 L388.2,453.5 L387.7,453.3 L387.2,453.9 L386.7,453.9 L386.2,453.7 L385.7,453.4 L385.2,453.6 L384.7,453.3 L384.2,453.7 L383.7,453.9 L383.2,454.0 L382.7,453.6 L382.2,453.9 L381.7,453.8 L381.2,453.6 L380.7,453.7 L380.2,454.0 L379.7,454.0 L379.2,453.5 L378.7,453.6 L378.2,453.9 L377.7,454.0 L377.2,453.9 L376.7,453.6 L376.2,453.3 L375.7,453.9 L375.2,453.5 L374.7,454.0 L374.2,453.7 L373.7,453.7 L373.2,453.5 L372.7,453.6 L372.2,453.5 L371.7,453.3 L371.2,453.5 L370.7,453.7 L370.2,454.0 L369.7,454.0 L369.2,453.9 L368.7,453.3 L368.2,453.4 L367.7,453.4 L367.2,453.3 L366.7,453.8 L366.2,454.0 L365.7,453.6 L365.2,453.6 L364.7,453.3 L364.2,453.4 L363.7,453.9 L363.2,453.9 L362.7,453.1 L362.2,453.1 L361.7,453.0 L361.2,453.3 L360.7,453.3 L360.2,453.3 L359.7,453.2 L359.2,453.0 L358.7,452.2 L358.2,452.0 L357.7,451.8 L357.2,453.6 L356.7,452.5 L356.2,452.9 L355.7,452.9 L355.2,452.5 L354.7,452.4 L354.2,452.3 L353.7,452.3 L353.2,452.3 L352.7,452.0 L352.2,451.9 L351.7,452.2 L351.2,452.4 L350.7,452.5 L350.2,452.6 L349.7,452.4 L349.2,452.6 L348.7,452.5 L348.2,452.7 L347.7,452.6 L347.2,452.5 L346.7,451.2 L346.2,451.2 L345.7,441.6 L345.2,410.8 L344.7,388.2 L344.2,411.5 L343.7,442.2 L343.2,451.7 L342.7,452.7 L342.2,452.7 L341.7,452.0 L341.2,451.8 L340.7,451.0 L340.2,451.4 L339.7,452.2 L339.2,452.5 L338.7,452.5 L338.2,452.7 L337.7,451.8 L337.2,452.3 L336.7,451.9 L336.2,451.3 L335.7,451.0 L335.2,451.2 L334.7,450.9 L334.2,451.5 L333.7,451.1 L333.2,451.4 L332.7,451.3 L332.2,451.4 L331.7,451.4 L331.2,450.5 L330.7,449.2 L330.2,447.6 L329.7,446.6 L329.2,443.6 L328.7,434.6 L328.2,420.9 L327.7,413.9 L327.2,422.5 L326.7,439.0 L326.2,448.5 L325.7,452.5 L325.2,453.2 L324.7,453.0 L324.2,452.9 L323.7,453.0 L323.2,452.8 L322.7,452.3 L322.2,451.9 L321.7,448.3 L321.2,443.7 L320.7,443.8 L320.2,449.0 L319.7,451.8 L319.2,453.1 L318.7,452.6 L318.2,452.6 L317.7,453.3 L317.2,452.6 L316.7,453.0 L316.2,453.0 L315.7,453.2 L315.2,453.0 L314.7,452.9 L314.2,452.9 L313.7,453.3 L313.2,453.3 L312.7,452.9 L312.2,452.5 L311.7,453.1 L311.2,452.7 L310.7,452.5 L310.2,452.8 L309.7,452.6 L309.2,453.2 L308.7,452.5 L308.2,452.8 L307.7,453.2 L307.2,452.8 L306.7,453.1 L306.2,452.5 L305.7,453.1 L305.2,453.1 L304.7,452.9 L304.2,452.5 L303.7,452.6 L303.2,452.9 L302.7,453.3 L302.2,452.5 L301.7,452.5 L301.2,453.2 L300.7,452.6 L300.2,453.3 L299.7,453.0 L299.2,453.0 L298.7,453.0 L298.2,453.2 L297.7,452.9 L297.2,453.0 L296.7,453.0 L296.2,453.4 L295.7,453.6 L295.2,453.7 L294.7,453.3 L294.2,453.6 L293.7,453.3 L293.2,453.7 L292.7,453.8 L292.2,453.9 L291.7,453.5 L291.2,453.5 L290.7,453.4Z" fill="#1eb066" fill-opacity="0.8"/>
<path d="M290.7,452.5 L291.2,452.6 L291.7,452.6 L292.2,453.0 L292.7,453.0 L293.2,452.8 L293.7,452.3 L294.2,452.7 L294.7,452.4 L295.2,452.8 L295.7,452.7 L296.2,452.5 L296.7,452.1 L297.2,452.0 L297.7,452.0 L298.2,452.3 L298.7,452.0 L299.2,452.1 L299.7,452.0 L300.2,452.3 L300.7,451.6 L301.2,452.2 L301.7,451.5 L302.2,451.5 L302.7,452.4 L303.2,452.0 L303.7,451.6 L304.2,451.5 L304.7,452.0 L305.2,452.1 L305.7,452.2 L306.2,451.5 L306.7,452.2 L307.2,451.8 L307.7,452.2 L308.2,451.9 L308.7,451.5 L309.2,452.2 L309.7,451.6 L310.2,451.9 L310.7,451.6 L311.2,451.7 L311.7,452.1 L312.2,451.5 L312.7,451.9 L313.2,452.3 L313.7,452.3 L314.2,451.9 L314.7,451.9 L315.2,452.1 L315.7,452.2 L316.2,452.0 L316.7,452.1 L317.2,451.6 L317.7,452.3 L318.2,451.7 L318.7,451.6 L319.2,452.2 L319.7,450.8 L320.2,447.8 L320.7,442.4 L321.2,442.2 L321.7,447.1 L322.2,450.9 L322.7,451.3 L323.2,451.8 L323.7,452.0 L324.2,452.0 L324.7,452.1 L325.2,452.2 L325.7,451.5 L326.2,447.4 L326.7,437.3 L327.2,420.0 L327.7,410.9 L328.2,418.3 L328.7,432.7 L329.2,442.2 L329.7,445.3 L330.2,446.4 L330.7,448.1 L331.2,449.5 L331.7,450.4 L332.2,450.4 L332.7,450.2 L333.2,450.4 L333.7,450.0 L334.2,450.5 L334.7,449.8 L335.2,450.1 L335.7,450.0 L336.2,450.3 L336.7,450.9 L337.2,451.4 L337.7,450.8 L338.2,451.7 L338.7,451.5 L339.2,451.5 L339.7,451.2 L340.2,450.4 L340.7,449.9 L341.2,450.8 L341.7,451.0 L342.2,451.8 L342.7,451.7 L343.2,450.7 L343.7,440.7 L344.2,408.4 L344.7,383.9 L345.2,407.6 L345.7,440.1 L346.2,450.2 L346.7,450.2 L347.2,449.5 L347.7,449.6 L348.2,449.7 L348.7,449.6 L349.2,449.7 L349.7,449.4 L350.2,449.7 L350.7,449.5 L351.2,449.5 L351.7,449.2 L352.2,448.9 L352.7,449.1 L353.2,449.4 L353.7,449.4 L354.2,449.3 L354.7,449.5 L355.2,449.6 L355.7,450.0 L356.2,449.9 L356.7,449.6 L357.2,450.7 L357.7,450.7 L358.2,451.1 L358.7,451.2 L359.2,452.1 L359.7,452.2 L360.2,452.4 L360.7,452.4 L361.2,452.4 L361.7,452.0 L362.2,452.2 L362.7,452.2 L363.2,453.0 L363.7,453.1 L364.2,452.5 L364.7,452.3 L365.2,452.7 L365.7,452.7 L366.2,453.2 L366.7,452.9 L367.2,452.4 L367.7,452.5 L368.2,452.5 L368.7,452.4 L369.2,453.0 L369.7,453.1 L370.2,453.1 L370.7,452.8 L371.2,452.6 L371.7,452.4 L372.2,452.6 L372.7,452.7 L373.2,452.6 L373.7,452.8 L374.2,452.8 L374.7,453.2 L375.2,452.5 L375.7,453.0 L376.2,452.4 L376.7,452.7 L377.2,453.0 L377.7,453.1 L378.2,453.0 L378.7,452.7 L379.2,452.6 L379.7,453.1 L380.2,453.2 L380.7,452.8 L381.2,452.7 L381.7,452.9 L382.2,453.0 L382.7,452.7 L383.2,453.2 L383.7,453.0 L384.2,452.8 L384.7,452.4 L385.2,452.7 L385.7,452.5 L386.2,452.8 L386.7,453.0 L387.2,453.0 L387.7,452.4 L388.2,452.6 L388.7,453.0 L389.2,453.2 L389.7,452.8 L390.2,452.6 L390.7,452.9 L391.2,453.0 L391.7,452.6 L392.2,452.4 L392.7,453.0 L393.2,453.2 L393.7,452.9 L394.2,452.9 L394.7,452.6 L395.2,453.1 L395.7,452.5 L396.2,452.5 L396.7,452.7 L397.2,452.8 L397.7,451.9 L398.2,452.0 L398.7,450.8 L399.2,450.2 L399.7,449.0 L400.2,447.5 L400.7,447.6 L401.2,447.2 L401.7,448.3 L402.2,449.3 L402.7,449.6 L403.2,449.2 L403.7,448.3 L404.2,447.3 L404.7,447.6 L405.2,447.5 L405.7,448.3 L406.2,448.4 L406.7,449.6 L407.2,449.7 L407.7,449.2 L408.2,448.1 L408.7,447.1 L409.2,447.0 L409.7,447.6 L410.2,448.1 L410.7,448.8 L411.2,449.5 L411.7,449.3 L412.2,447.9 L412.7,447.4 L413.2,447.7 L413.7,447.4" stroke="#2a7272" stroke-width="1.2" fill="none" stroke-linejoin="round"/>
<path d="M290.7,379.9V454.5H413.7" stroke="#222" stroke-width="1" fill="none"/>
<g font-family="Liberation Serif" font-size="10" fill="#111" stroke="#111" stroke-width="0.25"><text transform="translate(288.4,454.2) scale(0.95,1)" text-anchor="end">0</text><text transform="translate(288.4,439.1) scale(0.95,1)" text-anchor="end">2</text><text transform="translate(288.4,424.1) scale(0.95,1)" text-anchor="end">4</text><text transform="translate(288.4,409.0) scale(0.95,1)" text-anchor="end">6</text><text transform="translate(288.4,394.0) scale(0.95,1)" text-anchor="end">8</text></g>
<g font-family="Liberation Serif" font-size="9.8" fill="#111" stroke="#111" stroke-width="0.3"><text transform="translate(291.9,464) scale(0.9,1)" text-anchor="middle">500</text><text transform="translate(312.4,464) scale(0.9,1)" text-anchor="middle">1000</text><text transform="translate(333.6,464) scale(0.9,1)" text-anchor="middle">1500</text><text transform="translate(355.3,464) scale(0.9,1)" text-anchor="middle">2000</text><text transform="translate(380.5,464) scale(0.9,1)" text-anchor="middle">2500</text><text transform="translate(403.0,464) scale(0.9,1)" text-anchor="middle">3000</text></g>
<text transform="translate(349.2,480) scale(0.92,1)" text-anchor="middle" font-family="Liberation Serif" font-size="15.5" fill="#111" stroke="#111" stroke-width="0.3">Raman Shift (cm<tspan font-size="9.5" dy="-6">-1</tspan><tspan dy="6">)</tspan></text>
<text transform="translate(351.3,366.8) scale(0.92,1)" text-anchor="middle" font-family="Liberation Serif" font-size="14" fill="#26a2cc" stroke="#26a2cc" stroke-width="0.25">Day 08</text>
<path d="M420.7,452.0 L421.2,452.0 L421.7,452.0 L422.2,452.1 L422.7,452.2 L423.2,451.9 L423.7,451.8 L424.2,451.2 L424.7,451.9 L425.2,451.1 L425.7,451.8 L426.2,451.6 L426.7,451.1 L427.2,451.1 L427.7,451.4 L428.2,451.7 L428.7,451.3 L429.2,451.4 L429.7,450.8 L430.2,451.4 L430.7,451.2 L431.2,450.7 L431.7,451.5 L432.2,451.1 L432.7,450.7 L433.2,450.7 L433.7,451.3 L434.2,451.3 L434.7,451.2 L435.2,450.4 L435.7,450.9 L436.2,450.4 L436.7,450.3 L437.2,450.8 L437.7,450.8 L438.2,450.1 L438.7,450.4 L439.2,450.7 L439.7,450.2 L440.2,450.5 L440.7,450.5 L441.2,450.8 L441.7,450.0 L442.2,449.8 L442.7,450.0 L443.2,449.7 L443.7,450.5 L444.2,450.3 L444.7,450.0 L445.2,449.5 L445.7,449.5 L446.2,450.0 L446.7,450.1 L447.2,449.9 L447.7,449.8 L448.2,449.3 L448.7,450.0 L449.2,449.4 L449.7,449.4 L450.2,449.0 L450.7,447.3 L451.2,444.4 L451.7,445.1 L452.2,448.2 L452.7,449.5 L453.2,449.3 L453.7,449.9 L454.2,449.8 L454.7,449.3 L455.2,449.8 L455.7,449.9 L456.2,449.6 L456.7,446.5 L457.2,437.2 L457.7,421.1 L458.2,414.8 L458.7,424.8 L459.2,438.1 L459.7,443.8 L460.2,445.5 L460.7,446.5 L461.2,447.6 L461.7,448.8 L462.2,449.5 L462.7,449.5 L463.2,449.4 L463.7,449.4 L464.2,449.3 L464.7,449.2 L465.2,449.4 L465.7,449.9 L466.2,449.2 L466.7,449.7 L467.2,449.5 L467.7,449.7 L468.2,449.3 L468.7,449.8 L469.2,449.8 L469.7,449.8 L470.2,449.9 L470.7,449.2 L471.2,449.5 L471.7,449.7 L472.2,449.6 L472.7,449.0 L473.2,448.5 L473.7,440.1 L474.2,412.4 L474.7,391.9 L475.2,407.2 L475.7,434.9 L476.2,442.8 L476.7,445.5 L477.2,445.2 L477.7,444.8 L478.2,445.3 L478.7,444.7 L479.2,444.5 L479.7,444.1 L480.2,443.0 L480.7,443.1 L481.2,442.4 L481.7,442.6 L482.2,441.8 L482.7,441.8 L483.2,441.7 L483.7,440.8 L484.2,440.3 L484.7,440.8 L485.2,440.0 L485.7,439.6 L486.2,439.7 L486.7,439.2 L487.2,439.1 L487.7,438.7 L488.2,438.3 L488.7,437.6 L489.2,437.2 L489.7,452.2 L490.2,452.4 L490.7,452.1 L491.2,451.7 L491.7,452.2 L492.2,452.1 L492.7,452.2 L493.2,451.6 L493.7,451.9 L494.2,452.3 L494.7,452.3 L495.2,452.0 L495.7,451.9 L496.2,451.8 L496.7,452.3 L497.2,452.2 L497.7,451.7 L498.2,452.0 L498.7,452.1 L499.2,452.1 L499.7,451.5 L500.2,452.1 L500.7,451.8 L501.2,452.0 L501.7,452.0 L502.2,451.6 L502.7,451.4 L503.2,452.0 L503.7,452.2 L504.2,451.7 L504.7,452.2 L505.2,452.4 L505.7,451.5 L506.2,452.0 L506.7,451.6 L507.2,452.0 L507.7,451.5 L508.2,451.9 L508.7,452.2 L509.2,452.4 L509.7,451.9 L510.2,451.8 L510.7,451.5 L511.2,452.3 L511.7,451.8 L512.2,452.0 L512.7,451.9 L513.2,452.2 L513.7,452.1 L514.2,451.9 L514.7,451.5 L515.2,452.3 L515.7,451.9 L516.2,451.6 L516.7,451.5 L517.2,452.2 L517.7,452.3 L518.2,451.5 L518.7,451.5 L519.2,451.9 L519.7,452.3 L520.2,451.5 L520.7,452.0 L521.2,451.5 L521.7,451.8 L522.2,451.6 L522.7,452.2 L523.2,451.6 L523.7,452.2 L524.2,452.0 L524.7,451.6 L525.2,451.6 L525.7,452.2 L526.2,452.2 L526.7,452.0 L527.2,451.9 L527.7,451.9 L528.2,452.1 L528.7,451.8 L529.2,447.6 L529.7,446.4 L530.2,445.4 L530.7,442.1 L531.2,438.7 L531.7,437.0 L532.2,435.5 L532.7,436.5 L533.2,436.5 L533.7,436.4 L534.2,435.2 L534.7,433.7 L535.2,431.5 L535.7,429.6 L536.2,428.8 L536.7,428.8 L537.2,430.2 L537.7,432.1 L538.2,434.5 L538.7,435.5 L539.2,436.3 L539.7,436.0 L540.2,434.0 L540.7,432.1 L541.2,430.6 L541.7,429.8 L542.2,429.7 L542.7,431.7 L543.2,434.7 L543.7,438.2 L543.7,447.8 L543.2,444.6 L542.7,441.9 L542.2,440.0 L541.7,440.1 L541.2,440.8 L540.7,442.2 L540.2,444.0 L539.7,445.7 L539.2,446.0 L538.7,445.3 L538.2,444.4 L537.7,442.2 L537.2,440.5 L536.7,439.2 L536.2,439.3 L535.7,440.0 L535.2,441.7 L534.7,443.7 L534.2,445.0 L533.7,446.1 L533.2,446.2 L532.7,446.2 L532.2,445.3 L531.7,446.6 L531.2,448.2 L530.7,451.3 L530.2,454.0 L529.7,454.0 L529.2,454.0 L528.7,453.6 L528.2,453.9 L527.7,453.7 L527.2,453.7 L526.7,453.8 L526.2,453.9 L525.7,454.0 L525.2,453.4 L524.7,453.4 L524.2,453.8 L523.7,453.9 L523.2,453.5 L522.7,454.0 L522.2,453.4 L521.7,453.6 L521.2,453.4 L520.7,453.8 L520.2,453.3 L519.7,454.0 L519.2,453.7 L518.7,453.3 L518.2,453.3 L517.7,454.0 L517.2,454.0 L516.7,453.3 L516.2,453.4 L515.7,453.7 L515.2,454.0 L514.7,453.3 L514.2,453.7 L513.7,453.9 L513.2,454.0 L512.7,453.7 L512.2,453.8 L511.7,453.6 L511.2,454.0 L510.7,453.3 L510.2,453.6 L509.7,453.7 L509.2,454.0 L508.7,454.0 L508.2,453.7 L507.7,453.4 L507.2,453.8 L506.7,453.4 L506.2,453.8 L505.7,453.4 L505.2,454.0 L504.7,454.0 L504.2,453.5 L503.7,454.0 L503.2,453.8 L502.7,453.3 L502.2,453.4 L501.7,453.8 L501.2,453.8 L500.7,453.6 L500.2,453.9 L499.7,453.3 L499.2,453.9 L498.7,453.9 L498.2,453.8 L497.7,453.5 L497.2,454.0 L496.7,454.0 L496.2,453.6 L495.7,453.7 L495.2,453.8 L494.7,454.0 L494.2,454.0 L493.7,453.7 L493.2,453.4 L492.7,454.0 L492.2,453.9 L491.7,454.0 L491.2,453.5 L490.7,453.8 L490.2,454.0 L489.7,454.0 L489.2,443.3 L488.7,443.6 L488.2,444.2 L487.7,444.6 L487.2,444.9 L486.7,445.1 L486.2,445.5 L485.7,445.5 L485.2,445.8 L484.7,446.5 L484.2,446.1 L483.7,446.6 L483.2,447.3 L482.7,447.5 L482.2,447.4 L481.7,448.1 L481.2,448.0 L480.7,448.6 L480.2,448.5 L479.7,449.5 L479.2,449.9 L478.7,450.1 L478.2,450.6 L477.7,450.1 L477.2,450.5 L476.7,450.8 L476.2,448.4 L475.7,441.1 L475.2,416.1 L474.7,399.4 L474.2,417.9 L473.7,443.0 L473.2,450.6 L472.7,451.1 L472.2,451.7 L471.7,451.7 L471.2,451.5 L470.7,451.2 L470.2,451.9 L469.7,451.8 L469.2,451.8 L468.7,451.8 L468.2,451.4 L467.7,451.7 L467.2,451.5 L466.7,451.7 L466.2,451.3 L465.7,451.9 L465.2,451.4 L464.7,451.3 L464.2,451.3 L463.7,451.4 L463.2,451.4 L462.7,451.6 L462.2,451.5 L461.7,450.9 L461.2,449.8 L460.7,448.8 L460.2,448.0 L459.7,446.4 L459.2,441.2 L458.7,429.2 L458.2,420.1 L457.7,425.9 L457.2,440.4 L456.7,448.8 L456.2,451.6 L455.7,451.9 L455.2,451.8 L454.7,451.3 L454.2,451.8 L453.7,451.9 L453.2,451.3 L452.7,451.5 L452.2,450.4 L451.7,447.6 L451.2,446.9 L450.7,449.5 L450.2,451.1 L449.7,451.4 L449.2,451.4 L448.7,452.0 L448.2,451.4 L447.7,451.8 L447.2,451.9 L446.7,452.1 L446.2,452.0 L445.7,451.5 L445.2,451.6 L444.7,452.0 L444.2,452.3 L443.7,452.5 L443.2,451.7 L442.7,452.0 L442.2,451.8 L441.7,452.0 L441.2,452.7 L440.7,452.5 L440.2,452.5 L439.7,452.2 L439.2,452.6 L438.7,452.3 L438.2,452.1 L437.7,452.7 L437.2,452.7 L436.7,452.2 L436.2,452.4 L435.7,452.8 L435.2,452.3 L434.7,453.1 L434.2,453.1 L433.7,453.2 L433.2,452.6 L432.7,452.6 L432.2,453.0 L431.7,453.3 L431.2,452.6 L430.7,453.1 L430.2,453.3 L429.7,452.7 L429.2,453.2 L428.7,453.2 L428.2,453.6 L427.7,453.3 L427.2,453.0 L426.7,453.0 L426.2,453.4 L425.7,453.6 L425.2,453.0 L424.7,453.7 L424.2,453.1 L423.7,453.6 L423.2,453.7 L422.7,454.0 L422.2,453.9 L421.7,453.8 L421.2,453.8 L420.7,453.8Z" fill="#f8a05c" fill-opacity="0.8"/>
<path d="M420.7,452.9 L421.2,452.9 L421.7,452.9 L422.2,453.0 L422.7,453.1 L423.2,452.8 L423.7,452.7 L424.2,452.1 L424.7,452.8 L425.2,452.0 L425.7,452.7 L426.2,452.5 L426.7,452.1 L427.2,452.0 L427.7,452.3 L428.2,452.6 L428.7,452.2 L429.2,452.3 L429.7,451.7 L430.2,452.4 L430.7,452.2 L431.2,451.7 L431.7,452.4 L432.2,452.0 L432.7,451.6 L433.2,451.6 L433.7,452.2 L434.2,452.2 L434.7,452.1 L435.2,451.3 L435.7,451.9 L436.2,451.4 L436.7,451.2 L437.2,451.7 L437.7,451.7 L438.2,451.1 L438.7,451.3 L439.2,451.6 L439.7,451.2 L440.2,451.5 L440.7,451.5 L441.2,451.7 L441.7,451.0 L442.2,450.8 L442.7,451.0 L443.2,450.7 L443.7,451.5 L444.2,451.3 L444.7,451.0 L445.2,450.6 L445.7,450.5 L446.2,451.0 L446.7,451.1 L447.2,450.9 L447.7,450.8 L448.2,450.4 L448.7,451.0 L449.2,450.4 L449.7,450.4 L450.2,450.0 L450.7,448.4 L451.2,445.6 L451.7,446.3 L452.2,449.3 L452.7,450.5 L453.2,450.3 L453.7,450.9 L454.2,450.8 L454.7,450.3 L455.2,450.8 L455.7,450.9 L456.2,450.6 L456.7,447.6 L457.2,438.8 L457.7,423.5 L458.2,417.4 L458.7,427.0 L459.2,439.7 L459.7,445.1 L460.2,446.8 L460.7,447.7 L461.2,448.7 L461.7,449.8 L462.2,450.5 L462.7,450.5 L463.2,450.4 L463.7,450.4 L464.2,450.3 L464.7,450.2 L465.2,450.4 L465.7,450.9 L466.2,450.2 L466.7,450.7 L467.2,450.5 L467.7,450.7 L468.2,450.3 L468.7,450.8 L469.2,450.8 L469.7,450.8 L470.2,450.9 L470.7,450.2 L471.2,450.5 L471.7,450.7 L472.2,450.6 L472.7,450.1 L473.2,449.5 L473.7,441.5 L474.2,415.2 L474.7,395.7 L475.2,411.7 L475.7,438.0 L476.2,445.6 L476.7,448.2 L477.2,447.9 L477.7,447.5 L478.2,447.9 L478.7,447.4 L479.2,447.2 L479.7,446.8 L480.2,445.8 L480.7,445.8 L481.2,445.2 L481.7,445.4 L482.2,444.6 L482.7,444.6 L483.2,444.5 L483.7,443.7 L484.2,443.2 L484.7,443.7 L485.2,442.9 L485.7,442.5 L486.2,442.6 L486.7,442.1 L487.2,442.0 L487.7,441.6 L488.2,441.2 L488.7,440.6 L489.2,440.2 L489.7,453.1 L490.2,453.2 L490.7,453.0 L491.2,452.6 L491.7,453.1 L492.2,453.0 L492.7,453.1 L493.2,452.5 L493.7,452.8 L494.2,453.2 L494.7,453.2 L495.2,452.9 L495.7,452.8 L496.2,452.7 L496.7,453.2 L497.2,453.1 L497.7,452.6 L498.2,452.9 L498.7,453.0 L499.2,453.0 L499.7,452.4 L500.2,453.0 L500.7,452.7 L501.2,452.9 L501.7,452.9 L502.2,452.5 L502.7,452.4 L503.2,452.9 L503.7,453.1 L504.2,452.6 L504.7,453.1 L505.2,453.2 L505.7,452.4 L506.2,452.9 L506.7,452.5 L507.2,452.9 L507.7,452.5 L508.2,452.8 L508.7,453.1 L509.2,453.2 L509.7,452.8 L510.2,452.7 L510.7,452.4 L511.2,453.2 L511.7,452.7 L512.2,452.9 L512.7,452.8 L513.2,453.1 L513.7,453.0 L514.2,452.8 L514.7,452.4 L515.2,453.2 L515.7,452.8 L516.2,452.5 L516.7,452.4 L517.2,453.1 L517.7,453.1 L518.2,452.4 L518.7,452.4 L519.2,452.8 L519.7,453.2 L520.2,452.4 L520.7,452.9 L521.2,452.4 L521.7,452.7 L522.2,452.5 L522.7,453.1 L523.2,452.5 L523.7,453.0 L524.2,452.9 L524.7,452.5 L525.2,452.5 L525.7,453.1 L526.2,453.0 L526.7,452.9 L527.2,452.8 L527.7,452.8 L528.2,453.0 L528.7,452.7 L529.2,451.9 L529.7,450.8 L530.2,449.8 L530.7,446.7 L531.2,443.4 L531.7,441.8 L532.2,440.4 L532.7,441.3 L533.2,441.4 L533.7,441.2 L534.2,440.1 L534.7,438.7 L535.2,436.6 L535.7,434.8 L536.2,434.0 L536.7,434.0 L537.2,435.4 L537.7,437.2 L538.2,439.5 L538.7,440.4 L539.2,441.1 L539.7,440.9 L540.2,439.0 L540.7,437.1 L541.2,435.7 L541.7,434.9 L542.2,434.9 L542.7,436.8 L543.2,439.6 L543.7,443.0" stroke="#f5883a" stroke-width="1.2" fill="none" stroke-linejoin="round"/>
<path d="M420.7,379.9V454.5H543.7" stroke="#222" stroke-width="1" fill="none"/>
<g font-family="Liberation Serif" font-size="10" fill="#111" stroke="#111" stroke-width="0.25"><text transform="translate(418.4,454.2) scale(0.95,1)" text-anchor="end">0</text><text transform="translate(418.4,439.1) scale(0.95,1)" text-anchor="end">2</text><text transform="translate(418.4,424.1) scale(0.95,1)" text-anchor="end">4</text><text transform="translate(418.4,409.0) scale(0.95,1)" text-anchor="end">6</text><text transform="translate(418.4,394.0) scale(0.95,1)" text-anchor="end">8</text></g>
<g font-family="Liberation Serif" font-size="9.8" fill="#111" stroke="#111" stroke-width="0.3"><text transform="translate(421.9,464) scale(0.9,1)" text-anchor="middle">500</text><text transform="translate(442.4,464) scale(0.9,1)" text-anchor="middle">1000</text><text transform="translate(463.6,464) scale(0.9,1)" text-anchor="middle">1500</text><text transform="translate(485.3,464) scale(0.9,1)" text-anchor="middle">2000</text><text transform="translate(510.5,464) scale(0.9,1)" text-anchor="middle">2500</text><text transform="translate(533.0,464) scale(0.9,1)" text-anchor="middle">3000</text></g>
<text transform="translate(479.2,480) scale(0.92,1)" text-anchor="middle" font-family="Liberation Serif" font-size="15.5" fill="#111" stroke="#111" stroke-width="0.3">Raman Shift (cm<tspan font-size="9.5" dy="-6">-1</tspan><tspan dy="6">)</tspan></text>
<text transform="translate(486.8,366.0) scale(0.92,1)" text-anchor="middle" font-family="Liberation Serif" font-size="14" fill="#f5802c" stroke="#f5802c" stroke-width="0.25">Day 32</text>
<text transform="translate(17.5,418) rotate(-90) scale(1,0.92)" text-anchor="middle" font-family="Liberation Serif" font-size="14" fill="#111" stroke="#111" stroke-width="0.3">Intensity (a.u.)</text>
<text transform="translate(20.8,346.6) scale(0.97,1)" font-family="Liberation Serif" font-size="27.5" fill="#000" stroke="#000" stroke-width="0.4">B</text>
<path d="M98.2,687.6H474.1 M98.2,662.4H474.1 M98.2,637.2H474.1 M98.2,612.0H474.1 M98.2,586.8H474.1 M98.2,561.6H474.1 M120.7,536.2V712.8 M142.7,536.2V712.8 M164.8,536.2V712.8 M186.8,536.2V712.8 M208.9,536.2V712.8 M231.0,536.2V712.8 M253.0,536.2V712.8 M275.1,536.2V712.8 M297.1,536.2V712.8 M319.2,536.2V712.8 M341.3,536.2V712.8 M363.3,536.2V712.8 M385.4,536.2V712.8 M407.4,536.2V712.8 M429.5,536.2V712.8 M451.6,536.2V712.8" stroke="#dcdcdc" stroke-width="1" fill="none"/>
<rect x="352" y="537" width="118" height="78" fill="#fff" fill-opacity="0.55"/>
<path d="M98.5,536.2V713 M474.1,536.2V713 M98.2,712.8H474.1 M95.4,536.2H98.5 M95.4,541.2H98.5 M95.4,546.3H98.5 M95.4,551.3H98.5 M95.4,556.4H98.5 M95.4,561.4H98.5 M95.4,566.5H98.5 M95.4,571.5H98.5 M95.4,576.6H98.5 M95.4,581.6H98.5 M95.4,586.7H98.5 M95.4,591.7H98.5 M95.4,596.7H98.5 M95.4,601.8H98.5 M95.4,606.8H98.5 M95.4,611.9H98.5 M95.4,616.9H98.5 M95.4,622.0H98.5 M95.4,627.0H98.5 M95.4,632.1H98.5 M95.4,637.1H98.5 M95.4,642.2H98.5 M95.4,647.2H98.5 M95.4,652.3H98.5 M95.4,657.3H98.5 M95.4,662.3H98.5 M95.4,667.4H98.5 M95.4,672.4H98.5 M95.4,677.5H98.5 M95.4,682.5H98.5 M95.4,687.6H98.5 M95.4,692.6H98.5 M95.4,697.7H98.5 M95.4,702.7H98.5 M95.4,707.8H98.5 M95.4,712.8H98.5 M474.1,536.2H477.0 M474.1,540.6H477.0 M474.1,545.0H477.0 M474.1,549.4H477.0 M474.1,553.9H477.0 M474.1,558.3H477.0 M474.1,562.7H477.0 M474.1,567.1H477.0 M474.1,571.5H477.0 M474.1,575.9H477.0 M474.1,580.4H477.0 M474.1,584.8H477.0 M474.1,589.2H477.0 M474.1,593.6H477.0 M474.1,598.0H477.0 M474.1,602.4H477.0 M474.1,606.8H477.0 M474.1,611.3H477.0 M474.1,615.7H477.0 M474.1,620.1H477.0 M474.1,624.5H477.0 M474.1,628.9H477.0 M474.1,633.3H477.0 M474.1,637.7H477.0 M474.1,642.2H477.0 M474.1,646.6H477.0 M474.1,651.0H477.0 M474.1,655.4H477.0 M474.1,659.8H477.0 M474.1,664.2H477.0 M474.1,668.6H477.0 M474.1,673.1H477.0 M474.1,677.5H477.0 M474.1,681.9H477.0 M474.1,686.3H477.0 M474.1,690.7H477.0 M474.1,695.1H477.0 M474.1,699.6H477.0 M474.1,704.0H477.0 M474.1,708.4H477.0 M474.1,712.8H477.0" stroke="#404040" stroke-width="1.1" fill="none"/>
<path d="M98.2,712.8v3M120.3,712.8v3M142.3,712.8v3M164.4,712.8v3M186.4,712.8v3M208.5,712.8v3M230.6,712.8v3M252.6,712.8v3M274.7,712.8v3M296.7,712.8v3M318.8,712.8v3M340.9,712.8v3M362.9,712.8v3M385.0,712.8v3M407.0,712.8v3M429.1,712.8v3M451.2,712.8v3M473.2,712.8v3" stroke="#404040" stroke-width="1" fill="none"/>
<path d="M98.2,554.5 C100.0,557.8 105.6,570.0 109.2,574.2 C112.1,577.4 118.0,576.0 120.3,579.6 C123.9,585.5 128.2,598.8 131.3,609.5 C135.0,622.4 138.6,642.8 142.3,656.9 C145.8,670.1 149.7,685.1 153.3,694.2 C156.1,700.9 160.7,709.0 164.4,711.8 C167.5,714.1 171.7,711.0 175.4,711.0 C179.1,711.0 182.8,711.7 186.4,712.0 C190.1,712.3 193.8,712.5 197.5,712.6 C201.1,712.7 204.8,712.6 208.5,712.6 C212.2,712.6 215.9,712.6 219.5,712.6 C223.2,712.6 226.9,712.6 230.6,712.6 C234.2,712.6 237.9,712.6 241.6,712.6 C245.3,712.6 248.9,712.6 252.6,712.6 C256.3,712.6 260.0,712.6 263.6,712.6 C267.3,712.6 271.0,712.6 274.7,712.6 C278.4,712.6 282.0,712.6 285.7,712.6 C289.4,712.6 293.1,712.6 296.7,712.6 C300.4,712.6 304.1,712.6 307.8,712.6 C311.4,712.6 315.1,712.6 318.8,712.6 C322.5,712.6 326.2,712.6 329.8,712.6 C333.5,712.6 337.2,712.6 340.9,712.6 C344.5,712.6 348.2,712.6 351.9,712.6 C355.6,712.6 359.2,712.6 362.9,712.6 C366.6,712.6 370.3,712.6 373.9,712.6 C377.6,712.6 381.3,712.6 385.0,712.6 C388.7,712.6 392.3,712.6 396.0,712.6 C399.7,712.6 403.4,712.6 407.0,712.6 C410.7,712.6 414.4,712.6 418.1,712.6 C421.7,712.6 425.4,712.6 429.1,712.6 C432.8,712.6 436.5,712.6 440.1,712.6 C443.8,712.6 447.5,712.6 451.2,712.6 C454.8,712.6 458.5,712.6 462.2,712.6 C465.9,712.6 471.4,712.6 473.2,712.6" stroke="#1a86d0" stroke-width="1.9" fill="none" stroke-linejoin="round"/>
<path d="M98.2,706.4 C100.0,706.3 105.6,706.6 109.2,705.8 C112.9,704.9 116.9,703.8 120.3,701.3 C123.9,698.6 130.0,695.0 131.3,689.5 C136.8,666.7 147.8,586.2 153.3,564.5 C154.4,560.3 162.7,555.2 164.4,559.1 C169.9,571.9 180.9,627.8 186.4,641.5 C187.9,645.1 194.7,638.8 197.5,641.5 C201.1,645.1 204.8,660.8 208.5,663.1 C212.2,665.4 215.7,657.9 219.5,655.1 C225.0,651.0 236.1,638.5 241.6,638.5 C247.1,638.5 248.9,649.4 252.6,655.1 C256.3,660.8 260.0,671.1 263.6,672.7 C267.3,674.3 271.0,665.4 274.7,664.9 C278.4,664.4 282.0,668.6 285.7,670.0 C289.4,671.4 293.1,672.5 296.7,673.1 C300.4,673.7 304.1,673.2 307.8,673.6 C311.4,674.0 315.4,673.6 318.8,675.5 C322.5,677.5 326.2,684.5 329.8,685.5 C333.5,686.5 337.2,681.7 340.9,681.8 C344.5,681.9 348.0,684.7 351.9,686.0 C357.4,687.8 368.4,692.3 373.9,692.4 C378.3,692.5 381.3,686.1 385.0,686.4 C388.7,686.7 392.3,695.4 396.0,694.0 C399.7,692.6 403.4,678.3 407.0,678.0 C410.7,677.7 414.4,688.7 418.1,692.0 C421.3,695.0 425.4,698.2 429.1,698.0 C432.8,697.8 436.5,692.2 440.1,691.0 C443.8,689.8 447.5,690.1 451.2,691.0 C454.8,691.9 458.5,698.2 462.2,696.4 C465.9,694.6 471.4,682.7 473.2,680.0" stroke="#1b2b48" stroke-width="1.9" fill="none" stroke-linejoin="round"/>
<path d="M98.2,709.0 C100.0,709.0 105.6,709.1 109.2,709.0 C112.9,708.9 118.3,711.5 120.3,708.2 C123.9,701.9 127.4,683.9 131.3,670.9 C136.8,652.6 147.8,608.7 153.3,598.5 C155.9,593.7 161.4,604.9 164.4,609.5 C169.9,617.9 180.9,637.0 186.4,649.1 C191.5,660.3 193.8,674.7 197.5,682.4 C200.0,687.7 204.8,692.2 208.5,695.1 C211.8,697.7 215.7,698.3 219.5,700.0 C225.0,702.4 236.1,709.8 241.6,709.5 C247.1,709.2 248.9,697.6 252.6,698.2 C256.3,698.8 260.0,711.2 263.6,713.0 C267.3,714.8 271.0,709.3 274.7,709.0 C278.4,708.7 282.0,710.6 285.7,711.0 C289.4,711.4 293.1,711.2 296.7,711.5 C300.4,711.8 304.1,713.0 307.8,713.0 C311.4,713.0 315.1,711.7 318.8,711.5 C322.5,711.3 326.2,712.1 329.8,712.0 C333.5,711.9 337.2,711.8 340.9,711.0 C344.5,710.2 347.8,707.4 351.9,707.0 C357.4,706.5 368.4,707.1 373.9,708.0 C378.1,708.7 381.3,711.6 385.0,712.4 C388.7,713.2 392.3,712.9 396.0,713.0 C399.7,713.1 403.4,713.0 407.0,713.0 C410.7,713.0 414.4,713.2 418.1,713.2 C421.7,713.2 425.4,713.0 429.1,713.0 C432.8,713.0 436.5,713.2 440.1,713.0 C443.8,712.8 447.5,712.2 451.2,712.0 C454.8,711.8 458.6,713.3 462.2,712.0 C465.9,710.7 471.4,705.3 473.2,704.0" stroke="#12b012" stroke-width="1.9" fill="none" stroke-linejoin="round"/>
<path d="M98.2,711.8 C100.0,711.8 105.6,711.8 109.2,711.5 C112.9,711.2 116.6,711.0 120.3,710.0 C123.9,709.0 128.6,709.0 131.3,705.8 C136.8,699.3 147.8,676.6 153.3,670.9 C156.0,668.1 161.1,669.5 164.4,671.5 C169.9,674.8 180.9,687.1 186.4,690.9 C189.8,693.2 193.9,692.1 197.5,694.0 C201.1,695.9 204.8,700.5 208.5,702.4 C212.1,704.2 215.6,704.6 219.5,705.1 C225.0,705.8 236.1,706.7 241.6,706.7 C245.5,706.7 248.9,704.4 252.6,704.9 C256.3,705.4 260.0,708.9 263.6,709.6 C267.3,710.3 271.0,709.2 274.7,709.1 C278.4,709.0 282.0,709.0 285.7,709.0 C289.4,709.0 293.1,708.9 296.7,709.0 C300.4,709.1 304.1,709.7 307.8,709.6 C311.4,709.5 315.1,708.4 318.8,708.5 C322.5,708.6 326.2,709.8 329.8,710.0 C333.5,710.2 337.2,709.8 340.9,709.5 C344.5,709.2 348.0,708.3 351.9,708.2 C357.4,708.1 368.4,708.9 373.9,709.0 C377.8,709.1 381.3,708.7 385.0,709.0 C388.7,709.3 392.3,710.5 396.0,710.6 C399.7,710.7 403.4,709.6 407.0,709.6 C410.7,709.6 414.4,710.0 418.1,710.4 C421.7,710.8 425.4,712.3 429.1,712.0 C432.8,711.7 436.5,709.2 440.1,708.6 C443.8,708.0 447.5,708.7 451.2,708.6 C454.8,708.5 458.7,709.7 462.2,708.0 C465.9,706.2 471.4,699.7 473.2,698.0" stroke="#e01a1a" stroke-width="1.9" fill="none" stroke-linejoin="round"/>
<path d="M98.2,709.0l2.8,2.8l-2.8,2.8l-2.8,-2.8z" fill="#e01a1a"/>
<path d="M109.2,708.7l2.8,2.8l-2.8,2.8l-2.8,-2.8z" fill="#e01a1a"/>
<path d="M120.3,707.2l2.8,2.8l-2.8,2.8l-2.8,-2.8z" fill="#e01a1a"/>
<path d="M131.3,703.0l2.8,2.8l-2.8,2.8l-2.8,-2.8z" fill="#e01a1a"/>
<path d="M153.3,668.1l2.8,2.8l-2.8,2.8l-2.8,-2.8z" fill="#e01a1a"/>
<path d="M164.4,668.7l2.8,2.8l-2.8,2.8l-2.8,-2.8z" fill="#e01a1a"/>
<path d="M186.4,688.1l2.8,2.8l-2.8,2.8l-2.8,-2.8z" fill="#e01a1a"/>
<path d="M197.5,691.2l2.8,2.8l-2.8,2.8l-2.8,-2.8z" fill="#e01a1a"/>
<path d="M208.5,699.6l2.8,2.8l-2.8,2.8l-2.8,-2.8z" fill="#e01a1a"/>
<path d="M219.5,702.3l2.8,2.8l-2.8,2.8l-2.8,-2.8z" fill="#e01a1a"/>
<path d="M241.6,703.9l2.8,2.8l-2.8,2.8l-2.8,-2.8z" fill="#e01a1a"/>
<path d="M252.6,702.1l2.8,2.8l-2.8,2.8l-2.8,-2.8z" fill="#e01a1a"/>
<path d="M263.6,706.8l2.8,2.8l-2.8,2.8l-2.8,-2.8z" fill="#e01a1a"/>
<path d="M274.7,706.3l2.8,2.8l-2.8,2.8l-2.8,-2.8z" fill="#e01a1a"/>
<path d="M285.7,706.2l2.8,2.8l-2.8,2.8l-2.8,-2.8z" fill="#e01a1a"/>
<path d="M296.7,706.2l2.8,2.8l-2.8,2.8l-2.8,-2.8z" fill="#e01a1a"/>
<path d="M307.8,706.8l2.8,2.8l-2.8,2.8l-2.8,-2.8z" fill="#e01a1a"/>
<path d="M318.8,705.7l2.8,2.8l-2.8,2.8l-2.8,-2.8z" fill="#e01a1a"/>
<path d="M329.8,707.2l2.8,2.8l-2.8,2.8l-2.8,-2.8z" fill="#e01a1a"/>
<path d="M340.9,706.7l2.8,2.8l-2.8,2.8l-2.8,-2.8z" fill="#e01a1a"/>
<path d="M351.9,705.4l2.8,2.8l-2.8,2.8l-2.8,-2.8z" fill="#e01a1a"/>
<path d="M373.9,706.2l2.8,2.8l-2.8,2.8l-2.8,-2.8z" fill="#e01a1a"/>
<path d="M385.0,706.2l2.8,2.8l-2.8,2.8l-2.8,-2.8z" fill="#e01a1a"/>
<path d="M396.0,707.8l2.8,2.8l-2.8,2.8l-2.8,-2.8z" fill="#e01a1a"/>
<path d="M407.0,706.8l2.8,2.8l-2.8,2.8l-2.8,-2.8z" fill="#e01a1a"/>
<path d="M418.1,707.6l2.8,2.8l-2.8,2.8l-2.8,-2.8z" fill="#e01a1a"/>
<path d="M429.1,709.2l2.8,2.8l-2.8,2.8l-2.8,-2.8z" fill="#e01a1a"/>
<path d="M440.1,705.8l2.8,2.8l-2.8,2.8l-2.8,-2.8z" fill="#e01a1a"/>
<path d="M451.2,705.8l2.8,2.8l-2.8,2.8l-2.8,-2.8z" fill="#e01a1a"/>
<path d="M462.2,705.2l2.8,2.8l-2.8,2.8l-2.8,-2.8z" fill="#e01a1a"/>
<path d="M473.2,695.2l2.8,2.8l-2.8,2.8l-2.8,-2.8z" fill="#e01a1a"/>
<rect x="95.6" y="706.4" width="5.2" height="5.2" fill="#12b012"/>
<rect x="106.6" y="706.4" width="5.2" height="5.2" fill="#12b012"/>
<rect x="117.7" y="705.6" width="5.2" height="5.2" fill="#12b012"/>
<rect x="128.7" y="668.3" width="5.2" height="5.2" fill="#12b012"/>
<rect x="150.8" y="595.9" width="5.2" height="5.2" fill="#12b012"/>
<rect x="161.8" y="606.9" width="5.2" height="5.2" fill="#12b012"/>
<rect x="183.8" y="646.5" width="5.2" height="5.2" fill="#12b012"/>
<rect x="194.9" y="679.8" width="5.2" height="5.2" fill="#12b012"/>
<rect x="205.9" y="692.5" width="5.2" height="5.2" fill="#12b012"/>
<rect x="216.9" y="697.4" width="5.2" height="5.2" fill="#12b012"/>
<rect x="239.0" y="706.9" width="5.2" height="5.2" fill="#12b012"/>
<rect x="250.0" y="695.6" width="5.2" height="5.2" fill="#12b012"/>
<rect x="261.0" y="710.4" width="5.2" height="5.2" fill="#12b012"/>
<rect x="272.1" y="706.4" width="5.2" height="5.2" fill="#12b012"/>
<rect x="283.1" y="708.4" width="5.2" height="5.2" fill="#12b012"/>
<rect x="294.1" y="708.9" width="5.2" height="5.2" fill="#12b012"/>
<rect x="305.2" y="710.4" width="5.2" height="5.2" fill="#12b012"/>
<rect x="316.2" y="708.9" width="5.2" height="5.2" fill="#12b012"/>
<rect x="327.2" y="709.4" width="5.2" height="5.2" fill="#12b012"/>
<rect x="338.3" y="708.4" width="5.2" height="5.2" fill="#12b012"/>
<rect x="349.3" y="704.4" width="5.2" height="5.2" fill="#12b012"/>
<rect x="371.3" y="705.4" width="5.2" height="5.2" fill="#12b012"/>
<rect x="382.4" y="709.8" width="5.2" height="5.2" fill="#12b012"/>
<rect x="393.4" y="710.4" width="5.2" height="5.2" fill="#12b012"/>
<rect x="404.4" y="710.4" width="5.2" height="5.2" fill="#12b012"/>
<rect x="415.5" y="710.6" width="5.2" height="5.2" fill="#12b012"/>
<rect x="426.5" y="710.4" width="5.2" height="5.2" fill="#12b012"/>
<rect x="437.5" y="710.4" width="5.2" height="5.2" fill="#12b012"/>
<rect x="448.6" y="709.4" width="5.2" height="5.2" fill="#12b012"/>
<rect x="459.6" y="709.4" width="5.2" height="5.2" fill="#12b012"/>
<rect x="470.6" y="701.4" width="5.2" height="5.2" fill="#12b012"/>
<circle cx="98.2" cy="706.4" r="2.4" fill="#000"/>
<circle cx="109.2" cy="705.8" r="2.4" fill="#000"/>
<circle cx="120.3" cy="701.3" r="2.4" fill="#000"/>
<circle cx="131.3" cy="689.5" r="2.4" fill="#000"/>
<circle cx="153.3" cy="564.5" r="2.4" fill="#000"/>
<circle cx="164.4" cy="559.1" r="2.4" fill="#000"/>
<circle cx="186.4" cy="641.5" r="2.4" fill="#000"/>
<circle cx="197.5" cy="641.5" r="2.4" fill="#000"/>
<circle cx="208.5" cy="663.1" r="2.4" fill="#000"/>
<circle cx="219.5" cy="655.1" r="2.4" fill="#000"/>
<circle cx="241.6" cy="638.5" r="2.4" fill="#000"/>
<circle cx="252.6" cy="655.1" r="2.4" fill="#000"/>
<circle cx="263.6" cy="672.7" r="2.4" fill="#000"/>
<circle cx="274.7" cy="664.9" r="2.4" fill="#000"/>
<circle cx="285.7" cy="670.0" r="2.4" fill="#000"/>
<circle cx="296.7" cy="673.1" r="2.4" fill="#000"/>
<circle cx="307.8" cy="673.6" r="2.4" fill="#000"/>
<circle cx="318.8" cy="675.5" r="2.4" fill="#000"/>
<circle cx="329.8" cy="685.5" r="2.4" fill="#000"/>
<circle cx="340.9" cy="681.8" r="2.4" fill="#000"/>
<circle cx="351.9" cy="686.0" r="2.4" fill="#000"/>
<circle cx="373.9" cy="692.4" r="2.4" fill="#000"/>
<circle cx="385.0" cy="686.4" r="2.4" fill="#000"/>
<circle cx="396.0" cy="694.0" r="2.4" fill="#000"/>
<circle cx="407.0" cy="678.0" r="2.4" fill="#000"/>
<circle cx="418.1" cy="692.0" r="2.4" fill="#000"/>
<circle cx="429.1" cy="698.0" r="2.4" fill="#000"/>
<circle cx="440.1" cy="691.0" r="2.4" fill="#000"/>
<circle cx="451.2" cy="691.0" r="2.4" fill="#000"/>
<circle cx="462.2" cy="696.4" r="2.4" fill="#000"/>
<circle cx="473.2" cy="680.0" r="2.4" fill="#000"/>
<path d="M98.2,551.6l2.9,2.9l-2.9,2.9l-2.9,-2.9z" fill="#1a86d0"/>
<path d="M109.2,571.3l2.9,2.9l-2.9,2.9l-2.9,-2.9z" fill="#1a86d0"/>
<path d="M120.3,576.7l2.9,2.9l-2.9,2.9l-2.9,-2.9z" fill="#1a86d0"/>
<path d="M131.3,606.6l2.9,2.9l-2.9,2.9l-2.9,-2.9z" fill="#1a86d0"/>
<path d="M142.3,654.0l2.9,2.9l-2.9,2.9l-2.9,-2.9z" fill="#1a86d0"/>
<path d="M153.3,691.3l2.9,2.9l-2.9,2.9l-2.9,-2.9z" fill="#1a86d0"/>
<path d="M164.4,708.9l2.9,2.9l-2.9,2.9l-2.9,-2.9z" fill="#1a86d0"/>
<path d="M175.4,708.1l2.9,2.9l-2.9,2.9l-2.9,-2.9z" fill="#1a86d0"/>
<path d="M186.4,709.1l2.9,2.9l-2.9,2.9l-2.9,-2.9z" fill="#1a86d0"/>
<path d="M197.5,709.7l2.9,2.9l-2.9,2.9l-2.9,-2.9z" fill="#1a86d0"/>
<path d="M208.5,709.7l2.9,2.9l-2.9,2.9l-2.9,-2.9z" fill="#1a86d0"/>
<path d="M219.5,709.7l2.9,2.9l-2.9,2.9l-2.9,-2.9z" fill="#1a86d0"/>
<path d="M230.6,709.7l2.9,2.9l-2.9,2.9l-2.9,-2.9z" fill="#1a86d0"/>
<path d="M241.6,709.7l2.9,2.9l-2.9,2.9l-2.9,-2.9z" fill="#1a86d0"/>
<path d="M252.6,709.7l2.9,2.9l-2.9,2.9l-2.9,-2.9z" fill="#1a86d0"/>
<path d="M263.6,709.7l2.9,2.9l-2.9,2.9l-2.9,-2.9z" fill="#1a86d0"/>
<path d="M274.7,709.7l2.9,2.9l-2.9,2.9l-2.9,-2.9z" fill="#1a86d0"/>
<path d="M285.7,709.7l2.9,2.9l-2.9,2.9l-2.9,-2.9z" fill="#1a86d0"/>
<path d="M296.7,709.7l2.9,2.9l-2.9,2.9l-2.9,-2.9z" fill="#1a86d0"/>
<path d="M307.8,709.7l2.9,2.9l-2.9,2.9l-2.9,-2.9z" fill="#1a86d0"/>
<path d="M318.8,709.7l2.9,2.9l-2.9,2.9l-2.9,-2.9z" fill="#1a86d0"/>
<path d="M329.8,709.7l2.9,2.9l-2.9,2.9l-2.9,-2.9z" fill="#1a86d0"/>
<path d="M340.9,709.7l2.9,2.9l-2.9,2.9l-2.9,-2.9z" fill="#1a86d0"/>
<path d="M351.9,709.7l2.9,2.9l-2.9,2.9l-2.9,-2.9z" fill="#1a86d0"/>
<path d="M362.9,709.7l2.9,2.9l-2.9,2.9l-2.9,-2.9z" fill="#1a86d0"/>
<path d="M373.9,709.7l2.9,2.9l-2.9,2.9l-2.9,-2.9z" fill="#1a86d0"/>
<path d="M385.0,709.7l2.9,2.9l-2.9,2.9l-2.9,-2.9z" fill="#1a86d0"/>
<path d="M396.0,709.7l2.9,2.9l-2.9,2.9l-2.9,-2.9z" fill="#1a86d0"/>
<path d="M407.0,709.7l2.9,2.9l-2.9,2.9l-2.9,-2.9z" fill="#1a86d0"/>
<path d="M418.1,709.7l2.9,2.9l-2.9,2.9l-2.9,-2.9z" fill="#1a86d0"/>
<path d="M429.1,709.7l2.9,2.9l-2.9,2.9l-2.9,-2.9z" fill="#1a86d0"/>
<path d="M440.1,709.7l2.9,2.9l-2.9,2.9l-2.9,-2.9z" fill="#1a86d0"/>
<path d="M451.2,709.7l2.9,2.9l-2.9,2.9l-2.9,-2.9z" fill="#1a86d0"/>
<path d="M462.2,709.7l2.9,2.9l-2.9,2.9l-2.9,-2.9z" fill="#1a86d0"/>
<path d="M473.2,709.7l2.9,2.9l-2.9,2.9l-2.9,-2.9z" fill="#1a86d0"/>
<g font-family="Liberation Serif" font-size="13.5" fill="#1a1a1a" stroke="#1a1a1a" stroke-width="0.25"><text transform="translate(88.5,717.3) scale(0.93,1)" text-anchor="end">0</text><text transform="translate(88.5,692.1) scale(0.93,1)" text-anchor="end">20</text><text transform="translate(88.5,666.9) scale(0.93,1)" text-anchor="end">40</text><text transform="translate(88.5,641.7) scale(0.93,1)" text-anchor="end">60</text><text transform="translate(88.5,616.5) scale(0.93,1)" text-anchor="end">80</text><text transform="translate(88.5,591.3) scale(0.93,1)" text-anchor="end">100</text><text transform="translate(88.5,566.1) scale(0.93,1)" text-anchor="end">120</text><text transform="translate(88.5,540.9) scale(0.93,1)" text-anchor="end">140</text><text transform="translate(98.2,731.3) scale(0.92,1)" text-anchor="middle">0</text><text transform="translate(120.3,731.3) scale(0.92,1)" text-anchor="middle">2</text><text transform="translate(142.3,731.3) scale(0.92,1)" text-anchor="middle">4</text><text transform="translate(164.4,731.3) scale(0.92,1)" text-anchor="middle">6</text><text transform="translate(186.4,731.3) scale(0.92,1)" text-anchor="middle">8</text><text transform="translate(208.5,731.3) scale(0.92,1)" text-anchor="middle">10</text><text transform="translate(230.6,731.3) scale(0.92,1)" text-anchor="middle">12</text><text transform="translate(252.6,731.3) scale(0.92,1)" text-anchor="middle">14</text><text transform="translate(274.7,731.3) scale(0.92,1)" text-anchor="middle">16</text><text transform="translate(296.7,731.3) scale(0.92,1)" text-anchor="middle">18</text><text transform="translate(318.8,731.3) scale(0.92,1)" text-anchor="middle">20</text><text transform="translate(340.9,731.3) scale(0.92,1)" text-anchor="middle">22</text><text transform="translate(362.9,731.3) scale(0.92,1)" text-anchor="middle">24</text><text transform="translate(385.0,731.3) scale(0.92,1)" text-anchor="middle">26</text><text transform="translate(407.0,731.3) scale(0.92,1)" text-anchor="middle">28</text><text transform="translate(429.1,731.3) scale(0.92,1)" text-anchor="middle">30</text><text transform="translate(451.2,731.3) scale(0.92,1)" text-anchor="middle">32</text><text transform="translate(473.2,731.3) scale(0.92,1)" text-anchor="middle">34</text><text transform="translate(484,717.3) scale(0.93,1)">0</text><text transform="translate(484,695.2) scale(0.93,1)">5</text><text transform="translate(484,673.1) scale(0.93,1)">10</text><text transform="translate(484,651.1) scale(0.93,1)">15</text><text transform="translate(484,629.0) scale(0.93,1)">20</text><text transform="translate(484,606.9) scale(0.93,1)">25</text><text transform="translate(484,584.8) scale(0.93,1)">30</text><text transform="translate(484,562.8) scale(0.93,1)">35</text><text transform="translate(484,540.7) scale(0.93,1)">40</text></g>
<text x="274" y="751" text-anchor="middle" font-family="Liberation Serif" font-size="15" fill="#111" stroke="#111" stroke-width="0.25">Days</text>
<text transform="translate(60.5,620) rotate(-90)" text-anchor="middle" font-family="Liberation Serif" font-size="14" fill="#111" stroke="#111" stroke-width="0.25"><tspan fill="#2a3a70" stroke="#2a3a70">[Nitrate]</tspan> (mg.L<tspan font-size="9" dy="-5">-1</tspan><tspan dy="5">)</tspan></text>
<text transform="translate(511,625) rotate(-90)" text-anchor="middle" font-family="Liberation Serif" font-size="14" fill="#111" stroke="#111" stroke-width="0.25">[Pigments] (μg.mL<tspan font-size="9" dy="-5">-1</tspan><tspan dy="5">)</tspan></text>
<path d="M356.6,545.4H377.3" stroke="#1a86d0" stroke-width="1.9"/>
<path d="M366.7,542.2l3.2,3.2l-3.2,3.2l-3.2,-3.2z" fill="#1a86d0"/>
<path d="M356.6,566.2H377.3" stroke="#1b2b48" stroke-width="1.9"/>
<circle cx="366.7" cy="566.2" r="2.2" fill="#000"/>
<path d="M356.6,586.8H377.3" stroke="#12b012" stroke-width="1.9"/>
<rect x="363.7" y="583.8" width="6" height="6" fill="#12b012"/>
<path d="M356.6,607.4H377.3" stroke="#e01a1a" stroke-width="1.9"/>
<path d="M366.7,604.2l3.2,3.2l-3.2,3.2l-3.2,-3.2z" fill="#e01a1a"/>
<g font-family="Liberation Serif" font-size="14" fill="#111" stroke="#111" stroke-width="0.2">
<text transform="translate(385.4,550.2) scale(0.93,1)">NaNO<tspan font-size="9" dy="3">3</tspan></text>
<text transform="translate(385.4,571) scale(0.93,1)">Chlorophyll <tspan font-style="italic">a</tspan></text>
<text transform="translate(385.4,591.6) scale(0.93,1)">Chlorophyll <tspan font-style="italic">b</tspan></text>
<text transform="translate(385.4,612.2) scale(0.93,1)">Carotenoids</text>
</g>
<text x="21" y="517.3" font-family="Liberation Serif" font-size="28" fill="#000" stroke="#000" stroke-width="0.4">C</text>
</svg></body></html>
